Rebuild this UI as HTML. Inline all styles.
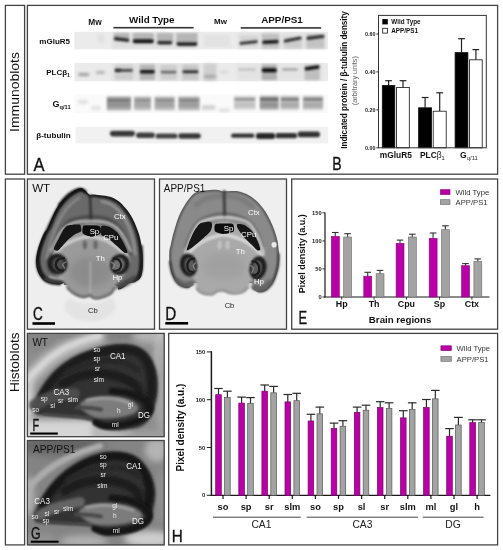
<!DOCTYPE html>
<html><head><meta charset="utf-8"><title>Figure</title>
<style>
html,body{margin:0;padding:0;background:#fff;}
body{width:503px;height:550px;overflow:hidden;}
svg{display:block;font-family:"Liberation Sans",sans-serif;}
.b{font-weight:bold;}
.fr{fill:none;stroke:#444;stroke-width:1.3;}
.L{stroke:#111;stroke-width:0.35;}
</style></head><body>
<svg width="503" height="550" viewBox="0 0 503 550">
<defs>
<filter id="bl1" filterUnits="userSpaceOnUse" x="0" y="0" width="503" height="550"><feGaussianBlur stdDeviation="0.9"/></filter>
<filter id="bl2" filterUnits="userSpaceOnUse" x="0" y="0" width="503" height="550"><feGaussianBlur stdDeviation="1.8"/></filter>
<filter id="bl3" filterUnits="userSpaceOnUse" x="0" y="0" width="503" height="550"><feGaussianBlur stdDeviation="3"/></filter>
<filter id="bl5" filterUnits="userSpaceOnUse" x="0" y="0" width="503" height="550"><feGaussianBlur stdDeviation="5"/></filter>
<filter id="bl12" filterUnits="userSpaceOnUse" x="0" y="0" width="503" height="550"><feGaussianBlur stdDeviation="1.25"/></filter>
<filter id="bl05" filterUnits="userSpaceOnUse" x="0" y="0" width="503" height="550"><feGaussianBlur stdDeviation="0.5"/></filter>
<clipPath id="cC"><rect x="27.4" y="179" width="127.1" height="150.2"/></clipPath>
<clipPath id="cD"><rect x="159.5" y="179" width="127" height="150.2"/></clipPath>
<clipPath id="cF"><rect x="27.4" y="333.4" width="136.8" height="103.3"/></clipPath>
<clipPath id="cG"><rect x="27.4" y="440.5" width="136.8" height="104.8"/></clipPath>
</defs>
<rect width="503" height="550" fill="#fff"/>

<g class="fr">
<rect x="5.4" y="5.4" width="19.2" height="168.8"/>
<rect x="27.4" y="5.4" width="470.2" height="168.8"/>
<rect x="5.4" y="179" width="19.2" height="365.9"/>
</g>
<text transform="translate(19.1,132) rotate(-90)" font-size="13.5" textLength="80" lengthAdjust="spacingAndGlyphs" fill="#111">Immunoblots</text>
<text transform="translate(19.1,392) rotate(-90)" font-size="13.5" textLength="59.5" lengthAdjust="spacingAndGlyphs" fill="#111">Histoblots</text>
<g id="panelA">
<rect x="74.4" y="31.8" width="253.6" height="17.6" fill="#ebebeb"/>
<rect x="74.4" y="63" width="253.6" height="18.2" fill="#ebebeb"/>
<rect x="74.4" y="94.5" width="253.6" height="18.5" fill="#fafafa"/>
<rect x="75.6" y="126.7" width="252.6" height="16.7" fill="#f1f1f1"/>
<text class="b" x="95" y="25.2" font-size="8.3" text-anchor="middle" fill="#111">Mw</text>
<text class="b" x="151.8" y="23" font-size="9.8" text-anchor="middle" fill="#111">Wild Type</text>
<text class="b" x="220.5" y="24.4" font-size="8" text-anchor="middle" fill="#111">Mw</text>
<text class="b" x="282" y="22.6" font-size="9.9" text-anchor="middle" fill="#111">APP/PS1</text>
<rect x="113.4" y="26.9" width="80.2" height="1.6" fill="#333"/>
<rect x="240.7" y="27.1" width="80.5" height="1.6" fill="#333"/>
<text class="b" x="70" y="43.8" font-size="8" text-anchor="end" fill="#111">mGluR5</text>
<text class="b" x="70" y="74.7" font-size="8" text-anchor="end" fill="#111">PLCβ<tspan font-size="5.2" dy="1.8">1</tspan></text>
<text class="b" x="70.6" y="106.7" font-size="9" text-anchor="end" fill="#111">G<tspan font-size="5.7" dy="2.2">q/11</tspan></text>
<text class="b" x="70.8" y="138" font-size="8.1" text-anchor="end" fill="#111">β-tubulin</text>
<rect x="112" y="33" width="86" height="15.5" fill="#d4d4d4" opacity="0.55" filter="url(#bl2)"/>
<rect x="238" y="33" width="87" height="15.5" fill="#d8d8d8" opacity="0.5" filter="url(#bl2)"/>
<rect x="114" y="33" width="15" height="7.0" fill="#8e8e8e" opacity="0.5" filter="url(#bl12)"/>
<rect x="133" y="33" width="20.5" height="8.5" fill="#8e8e8e" opacity="0.5" filter="url(#bl12)"/>
<rect x="157" y="33" width="16" height="10.0" fill="#8e8e8e" opacity="0.5" filter="url(#bl12)"/>
<rect x="176.5" y="33" width="20.900000000000006" height="11.0" fill="#8e8e8e" opacity="0.5" filter="url(#bl12)"/>
<path d="M115.7,37.0 L127.6,38.4 Q129.4,38.4 129.4,40.2 Q129.4,42.0 127.6,42.0 L115.7,40.6 Q113.9,40.6 113.9,38.8 Q113.9,37.0 115.7,37.0Z" fill="#262626" opacity="0.95" filter="url(#bl12)"/>
<path d="M134.8,39.3 L151.7,39.3 Q153.7,39.3 153.7,41.3 Q153.7,43.3 151.7,43.3 L134.8,43.3 Q132.8,43.3 132.8,41.3 Q132.8,39.3 134.8,39.3Z" fill="#161616" opacity="1" filter="url(#bl12)"/>
<path d="M159.0,41.1 L170.5,41.1 Q172.2,41.1 172.2,42.8 Q172.2,44.5 170.5,44.5 L159.0,44.5 Q157.3,44.5 157.3,42.8 Q157.3,41.1 159.0,41.1Z" fill="#262626" opacity="0.95" filter="url(#bl12)"/>
<path d="M178.3,42.3 L195.6,42.3 Q197.4,42.3 197.4,44.1 Q197.4,45.9 195.6,45.9 L178.3,45.9 Q176.5,45.9 176.5,44.1 Q176.5,42.3 178.3,42.3Z" fill="#1e1e1e" opacity="0.95" filter="url(#bl12)"/>
<rect x="98" y="34" width="6" height="9" fill="#ccc" opacity="0.35" filter="url(#bl2)"/>
<rect x="204" y="35" width="26" height="12" fill="#ddd" opacity="0.6" filter="url(#bl2)"/>
<rect x="240" y="36" width="17.5" height="11" fill="#9a9a9a" opacity="0.18" filter="url(#bl12)"/>
<rect x="262" y="33.5" width="17" height="15.0" fill="#9a9a9a" opacity="0.45" filter="url(#bl12)"/>
<rect x="284" y="37" width="17.5" height="11.5" fill="#9a9a9a" opacity="0.3" filter="url(#bl12)"/>
<rect x="306.5" y="34" width="18.0" height="14.5" fill="#9a9a9a" opacity="0.42" filter="url(#bl12)"/>
<path d="M240.8,42.0 L256.4,40.2 Q257.8,40.2 257.8,41.6 Q257.8,43.0 256.4,43.0 L240.8,44.8 Q239.5,44.8 239.5,43.4 Q239.5,42.0 240.8,42.0Z" fill="#282828" opacity="0.95" filter="url(#bl1)"/>
<path d="M264.0,40.4 L276.9,39.8 Q278.7,39.8 278.7,41.6 Q278.7,43.4 276.9,43.4 L264.0,44.0 Q262.2,44.0 262.2,42.2 Q262.2,40.4 264.0,40.4Z" fill="#1c1c1c" opacity="1" filter="url(#bl12)"/>
<path d="M285.2,39.4 L300.1,36.5 Q301.6,36.5 301.6,38.0 Q301.6,39.5 300.1,39.5 L285.2,42.4 Q283.7,42.4 283.7,40.9 Q283.7,39.4 285.2,39.4Z" fill="#262626" opacity="0.95" filter="url(#bl1)"/>
<path d="M308.2,36.6 L322.7,34.7 Q324.4,34.7 324.4,36.4 Q324.4,38.1 322.7,38.1 L308.2,40.0 Q306.5,40.0 306.5,38.3 Q306.5,36.6 308.2,36.6Z" fill="#2a2a2a" opacity="0.95" filter="url(#bl12)"/>
<rect x="112" y="64" width="88" height="16.5" fill="#d6d6d6" opacity="0.5" filter="url(#bl2)"/>
<rect x="237" y="64" width="86" height="16.5" fill="#dadada" opacity="0.45" filter="url(#bl2)"/>
<path d="M79.5,73.0 L87.9,73.0 Q89.4,73.0 89.4,74.6 Q89.4,76.1 87.9,76.1 L79.5,76.1 Q78.0,76.1 78.0,74.6 Q78.0,73.0 79.5,73.0Z" fill="#8e8e8e" opacity="0.85" filter="url(#bl2)"/>
<path d="M97.3,70.9 L103.5,70.9 Q105.0,70.9 105.0,72.4 Q105.0,73.9 103.5,73.9 L97.3,73.9 Q95.8,73.9 95.8,72.4 Q95.8,70.9 97.3,70.9Z" fill="#a2a2a2" opacity="0.8" filter="url(#bl2)"/>
<rect x="115" y="64.5" width="18" height="15.5" fill="#9a9a9a" opacity="0.25" filter="url(#bl12)"/>
<rect x="139.8" y="64.5" width="15.0" height="15.5" fill="#9a9a9a" opacity="0.6" filter="url(#bl12)"/>
<rect x="160.6" y="64.5" width="15.900000000000006" height="15.5" fill="#9a9a9a" opacity="0.25" filter="url(#bl12)"/>
<rect x="182.5" y="64.5" width="15.900000000000006" height="15.5" fill="#9a9a9a" opacity="0.35" filter="url(#bl12)"/>
<rect x="261.8" y="64.5" width="15.0" height="15.5" fill="#9a9a9a" opacity="0.7" filter="url(#bl12)"/>
<rect x="304.6" y="64.5" width="15.0" height="15.5" fill="#9a9a9a" opacity="0.5" filter="url(#bl12)"/>
<path d="M116.3,69.0 L131.4,69.0 Q132.8,69.0 132.8,70.4 Q132.8,71.8 131.4,71.8 L116.3,71.8 Q114.9,71.8 114.9,70.4 Q114.9,69.0 116.3,69.0Z" fill="#3a3a3a" opacity="0.9" filter="url(#bl1)"/>
<path d="M116.4,68.8 L119.5,68.8 Q121.0,68.8 121.0,70.2 Q121.0,71.7 119.5,71.7 L116.4,71.7 Q114.9,71.7 114.9,70.2 Q114.9,68.8 116.4,68.8Z" fill="#2a2a2a" opacity="0.7" filter="url(#bl1)"/>
<path d="M141.6,70.0 L153.0,70.0 Q154.8,70.0 154.8,71.8 Q154.8,73.6 153.0,73.6 L141.6,73.6 Q139.8,73.6 139.8,71.8 Q139.8,70.0 141.6,70.0Z" fill="#141414" opacity="1" filter="url(#bl12)"/>
<path d="M161.9,70.8 L175.2,70.8 Q176.5,70.8 176.5,72.1 Q176.5,73.4 175.2,73.4 L161.9,73.4 Q160.6,73.4 160.6,72.1 Q160.6,70.8 161.9,70.8Z" fill="#5a5a5a" opacity="0.85" filter="url(#bl1)"/>
<path d="M183.9,70.2 L197.0,70.2 Q198.4,70.2 198.4,71.7 Q198.4,73.2 197.0,73.2 L183.9,73.2 Q182.5,73.2 182.5,71.7 Q182.5,70.2 183.9,70.2Z" fill="#2c2c2c" opacity="0.95" filter="url(#bl1)"/>
<rect x="203.5" y="63.5" width="13" height="17.5" fill="#bbb" opacity="0.6" filter="url(#bl2)"/>
<path d="M205.6,75.0 L214.4,75.0 Q216.0,75.0 216.0,76.6 Q216.0,78.1 214.4,78.1 L205.6,78.1 Q204.0,78.1 204.0,76.6 Q204.0,75.0 205.6,75.0Z" fill="#999" opacity="0.8" filter="url(#bl2)"/>
<path d="M221.2,70.8 L226.8,70.8 Q228.0,70.8 228.0,72.0 Q228.0,73.2 226.8,73.2 L221.2,73.2 Q220.0,73.2 220.0,72.0 Q220.0,70.8 221.2,70.8Z" fill="#ccc" opacity="0.8" filter="url(#bl2)"/>
<path d="M239.1,68.4 L254.7,68.4 Q255.8,68.4 255.8,69.5 Q255.8,70.6 254.7,70.6 L239.1,70.6 Q238.0,70.6 238.0,69.5 Q238.0,68.4 239.1,68.4Z" fill="#b4b4b4" opacity="0.8" filter="url(#bl1)"/>
<path d="M263.8,68.2 L274.8,68.2 Q276.8,68.2 276.8,70.2 Q276.8,72.2 274.8,72.2 L263.8,72.2 Q261.8,72.2 261.8,70.2 Q261.8,68.2 263.8,68.2Z" fill="#101010" opacity="1" filter="url(#bl12)"/>
<path d="M283.2,68.4 L296.5,68.4 Q297.6,68.4 297.6,69.5 Q297.6,70.6 296.5,70.6 L283.2,70.6 Q282.1,70.6 282.1,69.5 Q282.1,68.4 283.2,68.4Z" fill="#8e8e8e" opacity="0.85" filter="url(#bl1)"/>
<path d="M306.4,67.0 L317.8,65.2 Q319.6,65.2 319.6,67.0 Q319.6,68.8 317.8,68.8 L306.4,70.6 Q304.6,70.6 304.6,68.8 Q304.6,67.0 306.4,67.0Z" fill="#121212" opacity="1" filter="url(#bl12)"/>
<path d="M80.0,100.0 L86.0,100.0 Q88.0,100.0 88.0,102.0 Q88.0,104.0 86.0,104.0 L80.0,104.0 Q78.0,104.0 78.0,102.0 Q78.0,100.0 80.0,100.0Z" fill="#ddd" opacity="0.9" filter="url(#bl2)"/>
<path d="M93.0,106.0 L99.0,106.0 Q101.0,106.0 101.0,108.0 Q101.0,110.0 99.0,110.0 L93.0,110.0 Q91.0,110.0 91.0,108.0 Q91.0,106.0 93.0,106.0Z" fill="#ddd" opacity="0.9" filter="url(#bl2)"/>
<rect x="107" y="97" width="23.80000000000001" height="12.5" fill="#8c8c8c" opacity="0.85" filter="url(#bl12)"/>
<rect x="107" y="96" width="23.80000000000001" height="15" fill="#aaa" opacity="0.42" filter="url(#bl2)"/>
<path d="M109.0,98.9 L128.8,98.9 Q130.3,98.9 130.3,100.4 Q130.3,101.9 128.8,101.9 L109.0,101.9 Q107.5,101.9 107.5,100.4 Q107.5,98.9 109.0,98.9Z" fill="#555" opacity="0.51" filter="url(#bl12)"/>
<path d="M109.0,103.1 L128.8,103.1 Q130.3,103.1 130.3,104.6 Q130.3,106.1 128.8,106.1 L109.0,106.1 Q107.5,106.1 107.5,104.6 Q107.5,103.1 109.0,103.1Z" fill="#666" opacity="0.2975" filter="url(#bl12)"/>
<rect x="134.2" y="97" width="16.700000000000017" height="12.5" fill="#8c8c8c" opacity="0.60" filter="url(#bl12)"/>
<rect x="134.2" y="96" width="16.700000000000017" height="15" fill="#aaa" opacity="0.30" filter="url(#bl2)"/>
<path d="M136.2,98.9 L148.9,98.9 Q150.4,98.9 150.4,100.4 Q150.4,101.9 148.9,101.9 L136.2,101.9 Q134.7,101.9 134.7,100.4 Q134.7,98.9 136.2,98.9Z" fill="#555" opacity="0.36" filter="url(#bl12)"/>
<path d="M136.2,103.1 L148.9,103.1 Q150.4,103.1 150.4,104.6 Q150.4,106.1 148.9,106.1 L136.2,106.1 Q134.7,106.1 134.7,104.6 Q134.7,103.1 136.2,103.1Z" fill="#666" opacity="0.21" filter="url(#bl12)"/>
<rect x="154.7" y="97" width="19.900000000000006" height="12.5" fill="#8c8c8c" opacity="0.62" filter="url(#bl12)"/>
<rect x="154.7" y="96" width="19.900000000000006" height="15" fill="#aaa" opacity="0.31" filter="url(#bl2)"/>
<path d="M156.7,98.9 L172.6,98.9 Q174.1,98.9 174.1,100.4 Q174.1,101.9 172.6,101.9 L156.7,101.9 Q155.2,101.9 155.2,100.4 Q155.2,98.9 156.7,98.9Z" fill="#555" opacity="0.372" filter="url(#bl12)"/>
<path d="M156.7,103.1 L172.6,103.1 Q174.1,103.1 174.1,104.6 Q174.1,106.1 172.6,106.1 L156.7,106.1 Q155.2,106.1 155.2,104.6 Q155.2,103.1 156.7,103.1Z" fill="#666" opacity="0.217" filter="url(#bl12)"/>
<rect x="178.5" y="97" width="20.900000000000006" height="12.5" fill="#8c8c8c" opacity="0.70" filter="url(#bl12)"/>
<rect x="178.5" y="96" width="20.900000000000006" height="15" fill="#aaa" opacity="0.35" filter="url(#bl2)"/>
<path d="M180.5,98.9 L197.4,98.9 Q198.9,98.9 198.9,100.4 Q198.9,101.9 197.4,101.9 L180.5,101.9 Q179.0,101.9 179.0,100.4 Q179.0,98.9 180.5,98.9Z" fill="#555" opacity="0.42" filter="url(#bl12)"/>
<path d="M180.5,103.1 L197.4,103.1 Q198.9,103.1 198.9,104.6 Q198.9,106.1 197.4,106.1 L180.5,106.1 Q179.0,106.1 179.0,104.6 Q179.0,103.1 180.5,103.1Z" fill="#666" opacity="0.24499999999999997" filter="url(#bl12)"/>
<path d="M203.8,105.2 L213.2,105.2 Q215.5,105.2 215.5,107.4 Q215.5,109.7 213.2,109.7 L203.8,109.7 Q201.5,109.7 201.5,107.4 Q201.5,105.2 203.8,105.2Z" fill="#ccc" opacity="0.95" filter="url(#bl2)"/>
<path d="M220.2,108.5 L228.2,108.5 Q230.0,108.5 230.0,110.2 Q230.0,112.0 228.2,112.0 L220.2,112.0 Q218.5,112.0 218.5,110.2 Q218.5,108.5 220.2,108.5Z" fill="#ddd" opacity="0.95" filter="url(#bl2)"/>
<rect x="234" y="96.5" width="21.5" height="12.5" fill="#8c8c8c" opacity="0.35" filter="url(#bl12)"/>
<rect x="234" y="95.5" width="21.5" height="15" fill="#aaa" opacity="0.17" filter="url(#bl2)"/>
<path d="M235.7,98.2 L253.8,98.2 Q255.0,98.2 255.0,99.4 Q255.0,100.6 253.8,100.6 L235.7,100.6 Q234.5,100.6 234.5,99.4 Q234.5,98.2 235.7,98.2Z" fill="#505050" opacity="0.51" filter="url(#bl1)"/>
<path d="M236.0,103.3 L253.5,103.3 Q255.0,103.3 255.0,104.8 Q255.0,106.3 253.5,106.3 L236.0,106.3 Q234.5,106.3 234.5,104.8 Q234.5,103.3 236.0,103.3Z" fill="#6a6a6a" opacity="0.12249999999999998" filter="url(#bl12)"/>
<rect x="260" y="96.5" width="18.5" height="12.5" fill="#8c8c8c" opacity="0.85" filter="url(#bl12)"/>
<rect x="260" y="95.5" width="18.5" height="15" fill="#aaa" opacity="0.42" filter="url(#bl2)"/>
<path d="M261.7,98.2 L276.8,98.2 Q278.0,98.2 278.0,99.4 Q278.0,100.6 276.8,100.6 L261.7,100.6 Q260.5,100.6 260.5,99.4 Q260.5,98.2 261.7,98.2Z" fill="#505050" opacity="0.81" filter="url(#bl1)"/>
<path d="M262.0,103.3 L276.5,103.3 Q278.0,103.3 278.0,104.8 Q278.0,106.3 276.5,106.3 L262.0,106.3 Q260.5,106.3 260.5,104.8 Q260.5,103.3 262.0,103.3Z" fill="#6a6a6a" opacity="0.2975" filter="url(#bl12)"/>
<rect x="280.5" y="96.5" width="18.5" height="12.5" fill="#8c8c8c" opacity="0.55" filter="url(#bl12)"/>
<rect x="280.5" y="95.5" width="18.5" height="15" fill="#aaa" opacity="0.28" filter="url(#bl2)"/>
<path d="M282.2,98.2 L297.3,98.2 Q298.5,98.2 298.5,99.4 Q298.5,100.6 297.3,100.6 L282.2,100.6 Q281.0,100.6 281.0,99.4 Q281.0,98.2 282.2,98.2Z" fill="#505050" opacity="0.63" filter="url(#bl1)"/>
<path d="M282.5,103.3 L297.0,103.3 Q298.5,103.3 298.5,104.8 Q298.5,106.3 297.0,106.3 L282.5,106.3 Q281.0,106.3 281.0,104.8 Q281.0,103.3 282.5,103.3Z" fill="#6a6a6a" opacity="0.1925" filter="url(#bl12)"/>
<rect x="303" y="96.5" width="20" height="12.5" fill="#8c8c8c" opacity="0.55" filter="url(#bl12)"/>
<rect x="303" y="95.5" width="20" height="15" fill="#aaa" opacity="0.28" filter="url(#bl2)"/>
<path d="M304.7,98.2 L321.3,98.2 Q322.5,98.2 322.5,99.4 Q322.5,100.6 321.3,100.6 L304.7,100.6 Q303.5,100.6 303.5,99.4 Q303.5,98.2 304.7,98.2Z" fill="#505050" opacity="0.63" filter="url(#bl1)"/>
<path d="M305.0,103.3 L321.0,103.3 Q322.5,103.3 322.5,104.8 Q322.5,106.3 321.0,106.3 L305.0,106.3 Q303.5,106.3 303.5,104.8 Q303.5,103.3 305.0,103.3Z" fill="#6a6a6a" opacity="0.1925" filter="url(#bl12)"/>
<path d="M112.7,130.8 L132.2,130.8 Q135.0,130.8 135.0,133.6 Q135.0,136.4 132.2,136.4 L112.7,136.4 Q109.9,136.4 109.9,133.6 Q109.9,130.8 112.7,130.8Z" fill="#383838" opacity="1" filter="url(#bl12)"/>
<path d="M138.7,132.6 L152.2,132.6 Q154.9,132.6 154.9,135.3 Q154.9,138.0 152.2,138.0 L138.7,138.0 Q136.0,138.0 136.0,135.3 Q136.0,132.6 138.7,132.6Z" fill="#3c3c3c" opacity="1" filter="url(#bl12)"/>
<path d="M158.1,133.4 L175.0,133.4 Q177.6,133.4 177.6,136.0 Q177.6,138.6 175.0,138.6 L158.1,138.6 Q155.5,138.6 155.5,136.0 Q155.5,133.4 158.1,133.4Z" fill="#424242" opacity="1" filter="url(#bl12)"/>
<path d="M181.0,133.3 L198.1,133.3 Q200.8,133.3 200.8,136.0 Q200.8,138.7 198.1,138.7 L181.0,138.7 Q178.3,138.7 178.3,136.0 Q178.3,133.3 181.0,133.3Z" fill="#383838" opacity="1" filter="url(#bl12)"/>
<path d="M233.1,133.6 L252.4,133.6 Q254.5,133.6 254.5,135.7 Q254.5,137.8 252.4,137.8 L233.1,137.8 Q231.0,137.8 231.0,135.7 Q231.0,133.6 233.1,133.6Z" fill="#303030" opacity="1" filter="url(#bl12)"/>
<path d="M258.8,133.1 L272.4,133.1 Q275.4,133.1 275.4,136.1 Q275.4,139.1 272.4,139.1 L258.8,139.1 Q255.8,139.1 255.8,136.1 Q255.8,133.1 258.8,133.1Z" fill="#282828" opacity="1" filter="url(#bl12)"/>
<path d="M278.0,133.1 L294.6,133.1 Q297.2,133.1 297.2,135.7 Q297.2,138.3 294.6,138.3 L278.0,138.3 Q275.4,138.3 275.4,135.7 Q275.4,133.1 278.0,133.1Z" fill="#303030" opacity="1" filter="url(#bl12)"/>
<path d="M300.4,131.6 L317.2,131.6 Q320.0,131.6 320.0,134.4 Q320.0,137.2 317.2,137.2 L300.4,137.2 Q297.6,137.2 297.6,134.4 Q297.6,131.6 300.4,131.6Z" fill="#303030" opacity="1" filter="url(#bl12)"/>
<text class="L" x="33.6" y="171" font-size="18.6" fill="#111" textLength="11" lengthAdjust="spacingAndGlyphs">A</text>
</g>
<g id="panelB">
<text class="L" x="332.2" y="170.2" font-size="18.4" fill="#111" textLength="9.4" lengthAdjust="spacingAndGlyphs">B</text>
<line x1="388.6" y1="85.4" x2="388.6" y2="80.7" stroke="#222" stroke-width="1.2"/>
<line x1="385.2" y1="80.7" x2="391.9" y2="80.7" stroke="#222" stroke-width="1.2"/>
<rect x="382.3" y="85.4" width="12.5" height="62.4" fill="#000" stroke="#111" stroke-width="0.8"/>
<line x1="403.0" y1="87.5" x2="403.0" y2="80.7" stroke="#222" stroke-width="1.2"/>
<line x1="399.6" y1="80.7" x2="406.4" y2="80.7" stroke="#222" stroke-width="1.2"/>
<rect x="396.6" y="87.5" width="12.7" height="60.3" fill="#fff" stroke="#111" stroke-width="0.8"/>
<line x1="425.1" y1="107.8" x2="425.1" y2="97.5" stroke="#222" stroke-width="1.2"/>
<line x1="421.7" y1="97.5" x2="428.5" y2="97.5" stroke="#222" stroke-width="1.2"/>
<rect x="418.6" y="107.8" width="13.0" height="40.0" fill="#000" stroke="#111" stroke-width="0.8"/>
<line x1="439.7" y1="111.2" x2="439.7" y2="92.8" stroke="#222" stroke-width="1.2"/>
<line x1="436.3" y1="92.8" x2="443.1" y2="92.8" stroke="#222" stroke-width="1.2"/>
<rect x="433.2" y="111.2" width="13.0" height="36.6" fill="#fff" stroke="#111" stroke-width="0.8"/>
<line x1="461.5" y1="52.6" x2="461.5" y2="38.7" stroke="#222" stroke-width="1.2"/>
<line x1="458.1" y1="38.7" x2="464.9" y2="38.7" stroke="#222" stroke-width="1.2"/>
<rect x="455.1" y="52.6" width="12.8" height="95.2" fill="#000" stroke="#111" stroke-width="0.8"/>
<line x1="475.9" y1="59.8" x2="475.9" y2="49.6" stroke="#222" stroke-width="1.2"/>
<line x1="472.5" y1="49.6" x2="479.2" y2="49.6" stroke="#222" stroke-width="1.2"/>
<rect x="469.5" y="59.8" width="12.7" height="88.0" fill="#fff" stroke="#111" stroke-width="0.8"/>
<rect x="378.5" y="15.4" width="107.8" height="132.4" fill="none" stroke="#333" stroke-width="1"/>
<line x1="376.3" y1="147.8" x2="378.5" y2="147.8" stroke="#222" stroke-width="0.9"/>
<text class="b" x="375.5" y="149.7" font-size="5.4" text-anchor="end" fill="#222">0.00</text>
<line x1="376.3" y1="109.9" x2="378.5" y2="109.9" stroke="#222" stroke-width="0.9"/>
<text class="b" x="375.5" y="111.8" font-size="5.4" text-anchor="end" fill="#222">0.20</text>
<line x1="376.3" y1="71.9" x2="378.5" y2="71.9" stroke="#222" stroke-width="0.9"/>
<text class="b" x="375.5" y="73.8" font-size="5.4" text-anchor="end" fill="#222">0.40</text>
<line x1="376.3" y1="34.0" x2="378.5" y2="34.0" stroke="#222" stroke-width="0.9"/>
<text class="b" x="375.5" y="35.9" font-size="5.4" text-anchor="end" fill="#222">0.60</text>
<text class="b" x="395.9" y="158" font-size="8.4" text-anchor="middle" fill="#111">mGluR5</text>
<text class="b" x="432.3" y="158" font-size="8.4" text-anchor="middle" fill="#111">PLC<tspan font-weight="normal">β</tspan><tspan font-size="5.6" dy="1.8" font-weight="normal">1</tspan></text>
<text class="b" x="469" y="158" font-size="8.6" text-anchor="middle" fill="#111">G<tspan font-size="6" dy="2" font-weight="normal" fill="#333">q/11</tspan></text>
<rect x="382.3" y="19.1" width="5.5" height="5.3" fill="#000"/>
<rect x="382.7" y="28.3" width="4.8" height="4.8" fill="#fff" stroke="#111" stroke-width="0.8"/>
<text class="b" x="391.3" y="24.4" font-size="6.3" fill="#111">Wild Type</text>
<text class="b" x="391.3" y="33.3" font-size="6.3" fill="#111">APP/PS1</text>
<text class="b" transform="translate(346.5,80) rotate(-90)" font-size="8.15" text-anchor="middle" fill="#111">Indicated protein / β-tubulin density</text>
<text transform="translate(357,80.6) rotate(-90)" font-size="7.3" text-anchor="middle" fill="#666">(arbitrary units)</text>
</g><g id="panelC"><g clip-path="url(#cC)">
<rect x="27" y="179" width="128" height="151" fill="#eeeeee"/>
<path d="M81.1,188.0C83.1,187.9 83.6,189.5 85.1,190.6C86.5,191.7 88.5,194.2 89.8,194.8C91.1,195.4 91.2,194.3 93.0,194.4C94.8,194.5 97.5,194.8 100.3,195.2C103.1,195.6 107.0,195.8 110.0,196.8C113.0,197.8 115.8,199.1 118.4,201.0C121.0,202.9 123.3,205.6 125.4,208.0C127.5,210.4 129.2,212.7 130.9,215.6C132.6,218.5 134.4,222.2 135.8,225.4C137.2,228.7 138.4,231.9 139.3,235.1C140.2,238.3 140.8,241.6 141.4,244.8C142.0,248.1 142.6,250.8 142.8,254.6C143.0,258.4 143.2,264.0 142.8,267.8C142.5,271.6 142.0,275.2 140.7,277.6C139.4,280.0 137.0,280.9 135.1,281.9C133.2,282.8 131.3,282.4 129.5,283.3C127.7,284.2 125.8,286.3 124.0,287.3C122.2,288.3 120.2,289.8 118.4,289.4C116.6,289.0 121.4,285.7 113.0,285.0C104.6,284.3 76.1,285.3 68.0,285.0C59.9,284.7 66.1,283.1 64.6,283.0C63.1,282.9 61.5,284.5 59.0,284.5C56.5,284.5 52.1,284.0 49.3,283.1C46.5,282.2 44.3,281.1 42.3,279.0C40.3,276.9 38.4,273.6 37.4,270.6C36.4,267.6 36.0,264.1 36.0,260.9C36.0,257.6 36.6,254.6 37.4,251.1C38.2,247.6 39.8,243.0 40.9,240.0C42.0,237.0 42.9,235.0 44.0,233.0C45.1,231.0 46.3,230.6 47.7,227.9C49.1,225.2 50.8,220.2 52.4,216.8C54.0,213.4 55.3,210.2 57.2,207.3C59.1,204.4 61.0,202.0 63.6,199.3C66.2,196.7 70.2,193.3 73.1,191.4C76.0,189.5 79.1,188.1 81.1,188.0Z" fill="#1c1c1c" filter="url(#bl05)"/>
<path d="M81.8,191.1C83.6,191.0 84.1,192.5 85.5,193.6C86.8,194.6 88.6,196.9 89.8,197.5C91.1,198.1 91.2,197.1 92.8,197.1C94.5,197.2 97.0,197.5 99.6,197.9C102.2,198.3 105.8,198.5 108.6,199.4C111.4,200.3 114.1,201.6 116.4,203.3C118.8,205.1 121.0,207.6 123.0,209.9C124.9,212.2 126.5,214.3 128.1,217.1C129.7,219.8 131.3,223.2 132.6,226.3C133.9,229.3 135.0,232.4 135.9,235.4C136.8,238.4 137.3,241.5 137.8,244.5C138.4,247.6 138.9,250.1 139.1,253.7C139.4,257.3 139.5,262.5 139.1,266.1C138.8,269.7 138.4,273.1 137.2,275.3C136.0,277.6 133.7,278.5 132.0,279.4C130.2,280.3 128.5,279.9 126.8,280.7C125.0,281.5 123.4,283.5 121.7,284.5C119.9,285.4 118.2,286.8 116.4,286.4C114.7,286.1 119.2,283.0 111.4,282.3C103.6,281.6 77.1,282.6 69.6,282.3C62.1,282.0 67.8,280.5 66.4,280.4C65.0,280.3 63.6,281.8 61.2,281.8C58.8,281.8 54.8,281.4 52.2,280.5C49.6,279.7 47.5,278.6 45.7,276.7C43.8,274.7 42.1,271.6 41.1,268.8C40.1,265.9 39.8,262.7 39.8,259.6C39.8,256.6 40.4,253.7 41.1,250.4C41.9,247.2 43.3,242.8 44.4,240.0C45.4,237.2 46.2,235.3 47.3,233.4C48.3,231.5 49.4,231.2 50.7,228.6C52.0,226.1 53.6,221.4 55.1,218.2C56.5,215.0 57.8,212.0 59.5,209.3C61.3,206.5 63.0,204.2 65.5,201.7C67.9,199.3 71.6,196.1 74.3,194.3C77.0,192.5 79.9,191.2 81.8,191.1Z" fill="#6a6a6a" filter="url(#bl1)"/>
<path d="M102.0,201.5C103.7,202.1 108.8,202.9 112.0,205.0C115.2,207.1 118.8,210.5 121.5,214.0C124.2,217.5 126.6,221.7 128.5,226.0C130.4,230.3 131.9,235.3 133.0,240.0C134.1,244.7 134.7,251.7 135.0,254.0" fill="none" stroke="#959595" stroke-width="3.0" stroke-linecap="round" stroke-linejoin="round" opacity="0.9" filter="url(#bl12)"/>
<path d="M79.0,198.0C77.3,199.3 72.0,202.8 69.0,206.0C66.0,209.2 63.4,212.8 61.0,217.0C58.6,221.2 56.4,226.2 54.5,231.0C52.6,235.8 50.8,241.5 49.5,246.0C48.2,250.5 47.4,256.0 47.0,258.0" fill="none" stroke="#8c8c8c" stroke-width="3.0" stroke-linecap="round" stroke-linejoin="round" opacity="0.85" filter="url(#bl12)"/>
<path d="M53.0,247.0C54.2,244.5 57.2,236.3 60.0,232.0C62.8,227.7 65.0,223.5 70.0,221.0C75.0,218.5 83.7,217.1 90.0,216.8C96.3,216.6 103.1,217.6 108.0,219.5C112.9,221.4 116.3,224.2 119.5,228.0C122.7,231.8 125.2,237.7 127.0,242.0C128.8,246.3 129.5,252.0 130.0,254.0" fill="none" stroke="#4a4a4a" stroke-width="3.6" stroke-linecap="round" stroke-linejoin="round" opacity="0.9" filter="url(#bl12)"/>
<path d="M60.0,204.5C61.1,203.2 64.2,199.2 66.5,197.0C68.8,194.8 71.7,192.9 74.0,191.6C76.3,190.3 78.8,189.4 80.6,189.4C82.4,189.4 84.3,191.2 85.0,191.6" fill="none" stroke="#111" stroke-width="3.4" stroke-linecap="round" stroke-linejoin="round" filter="url(#bl1)"/>
<path d="M37.4,260.0C37.7,258.3 38.3,253.8 39.4,250.0C40.5,246.2 42.4,241.3 44.2,237.0C46.0,232.7 48.1,228.1 50.0,224.0C51.9,219.9 53.9,215.7 55.6,212.5C57.3,209.3 59.3,206.2 60.0,205.0" fill="none" stroke="#181818" stroke-width="2.6" stroke-linecap="round" stroke-linejoin="round" filter="url(#bl1)"/>
<path d="M37.6,262.0C37.9,263.5 38.3,268.2 39.4,271.0C40.5,273.8 42.2,276.7 44.0,278.5C45.8,280.3 47.5,281.2 50.0,282.0C52.5,282.8 57.5,283.2 59.0,283.4" fill="none" stroke="#1c1c1c" stroke-width="3.6" stroke-linecap="round" stroke-linejoin="round" filter="url(#bl1)"/>
<path d="M141.6,246.0C141.7,248.0 142.0,254.3 142.0,258.0C142.0,261.7 142.0,264.9 141.6,268.0C141.2,271.1 140.8,274.3 139.5,276.5C138.2,278.7 134.9,280.2 134.0,281.0" fill="none" stroke="#1c1c1c" stroke-width="2.2" stroke-linecap="round" stroke-linejoin="round" filter="url(#bl1)"/>
<path d="M118.0,286.4C119.3,285.9 123.3,284.9 126.0,283.5C128.7,282.1 132.7,278.9 134.0,278.0" fill="none" stroke="#4a4a4a" stroke-width="5" stroke-linecap="round" stroke-linejoin="round" filter="url(#bl2)"/>
<path d="M46.0,279.0C47.3,279.4 51.3,281.2 54.0,281.5C56.7,281.8 60.7,281.1 62.0,281.0" fill="none" stroke="#3c3c3c" stroke-width="4" stroke-linecap="round" stroke-linejoin="round" filter="url(#bl12)"/>
<path d="M90.2,195.0C90.2,197.2 90.4,203.7 90.5,208.0C90.6,212.3 90.8,218.8 90.8,221.0" fill="none" stroke="#262626" stroke-width="2.0" stroke-linecap="round" stroke-linejoin="round" filter="url(#bl1)"/>
<path d="M50.5,262.0C50.5,258.2 52.8,254.0 55.0,250.0C57.2,246.0 60.5,241.7 64.0,238.0C67.5,234.3 71.6,230.3 76.0,228.0C80.4,225.7 85.7,224.0 90.5,224.0C95.3,224.0 100.6,225.7 105.0,228.0C109.4,230.3 113.5,234.3 117.0,238.0C120.5,241.7 123.8,246.0 126.0,250.0C128.2,254.0 130.7,258.0 130.5,262.0C130.3,266.0 127.2,270.5 125.0,274.0C122.8,277.5 118.7,280.8 117.0,283.0C115.3,285.2 116.1,285.4 114.9,287.3C113.7,289.2 112.7,292.5 110.0,294.3C107.3,296.1 101.6,297.8 98.9,298.4C96.2,299.0 95.3,298.6 93.8,298.2C92.3,297.8 91.6,295.9 89.8,295.8C88.0,295.7 85.5,297.8 82.7,297.3C79.9,296.8 75.5,294.6 72.9,292.9C70.4,291.2 69.1,289.3 67.4,287.3C65.8,285.3 65.1,283.4 63.0,281.0C60.9,278.6 57.1,276.2 55.0,273.0C52.9,269.8 50.5,265.8 50.5,262.0Z" fill="#9a9a9a" filter="url(#bl1)"/>
<path d="M50.9,250.5C51.8,248.6 54.4,242.7 56.5,239.0C58.6,235.3 60.6,231.3 63.6,228.5C66.6,225.7 70.2,223.6 74.7,222.4C79.2,221.2 85.2,221.2 90.6,221.2C96.0,221.2 102.5,221.4 107.0,222.6C111.5,223.8 114.5,225.8 117.5,228.5C120.5,231.2 122.8,235.2 125.0,239.0C127.2,242.8 129.6,249.0 130.5,251.0" fill="none" stroke="#b6b6b6" stroke-width="2.5" stroke-linecap="round" stroke-linejoin="round" filter="url(#bl1)"/>
<path d="M55.0,254.0C56.5,252.6 60.5,247.9 64.0,245.5C67.5,243.1 71.5,241.0 76.0,239.5C80.5,238.0 85.9,236.5 90.7,236.6C95.5,236.7 100.6,238.2 105.0,240.0C109.4,241.8 113.4,244.8 117.0,247.5C120.6,250.2 124.9,254.6 126.5,256.0" fill="none" stroke="#cecece" stroke-width="3.2" stroke-linecap="round" stroke-linejoin="round" filter="url(#bl1)"/>
<ellipse cx="90.5" cy="272.0" rx="21" ry="15" fill="#8a8a8a" opacity="0.9" filter="url(#bl3)"/>
<path d="M67.4,287.3C68.3,288.2 70.4,291.1 72.9,292.7C75.5,294.3 79.9,296.4 82.7,296.8C85.5,297.2 88.0,295.2 89.8,295.4C91.6,295.6 92.3,297.4 93.8,297.8C95.3,298.2 96.2,298.6 98.9,297.9C101.6,297.2 107.3,295.6 110.0,293.8C112.7,292.0 114.1,288.4 114.9,287.3" fill="none" stroke="#686868" stroke-width="2.6" stroke-linecap="round" stroke-linejoin="round" filter="url(#bl1)"/>
<path d="M90.4,262.0C90.4,264.7 90.4,273.0 90.4,278.0C90.4,283.0 90.2,289.7 90.2,292.0" fill="none" stroke="#b4b4b4" stroke-width="1.8" stroke-linecap="round" stroke-linejoin="round" opacity="0.8" filter="url(#bl1)"/>
<path d="M67.6,225.6C69.6,224.8 77.9,224.0 79.5,224.6C81.1,225.2 81.9,229.9 81.3,231.1C80.7,232.3 76.4,233.4 74.7,234.5C73.0,235.6 68.7,239.0 66.8,240.9C64.9,242.8 59.5,249.5 58.0,250.4C56.5,251.3 53.9,249.9 54.0,248.6C54.1,247.3 57.6,241.1 58.6,239.1C59.6,237.1 61.6,232.7 62.6,231.1C63.6,229.5 65.6,226.4 67.6,225.6Z" fill="#121212" filter="url(#bl05)"/>
<path d="M83.2,225.9C84.0,224.9 88.1,225.3 90.0,225.3C91.9,225.3 98.6,225.3 99.8,226.3C101.0,227.3 101.2,232.6 100.2,233.8C99.2,235.0 93.0,236.8 91.0,236.8C89.0,236.8 83.9,234.9 83.0,233.6C82.1,232.3 82.4,226.9 83.2,225.9Z" fill="#0a0a0a" filter="url(#bl05)"/>
<path d="M101.6,226.1C102.6,225.2 107.7,226.1 109.6,226.9C111.5,227.7 115.9,230.9 117.5,232.8C119.1,234.7 122.3,240.6 123.5,242.8C124.7,245.0 127.4,250.7 127.5,251.9C127.6,253.1 125.9,253.5 124.5,252.7C123.1,251.9 117.5,246.5 115.5,244.8C113.5,243.1 109.3,239.0 107.6,237.8C105.9,236.6 101.9,236.2 101.2,234.8C100.5,233.4 100.6,227.0 101.6,226.1Z" fill="#121212" filter="url(#bl05)"/>
<ellipse cx="84.9" cy="244.8" rx="2.2" ry="4.6" fill="#686868" filter="url(#bl1)"/>
<ellipse cx="95.5" cy="244.8" rx="2.2" ry="4.6" fill="#686868" filter="url(#bl1)"/>
<path d="M66.4,259.8C67.0,261.2 67.4,262.8 67.4,264.4C67.4,265.9 67.1,267.5 66.5,268.9C65.8,270.2 64.8,271.5 63.7,272.4C62.6,273.3 61.1,274.0 59.7,274.3C58.2,274.6 56.6,274.5 55.2,274.1C53.7,273.8 52.2,273.0 51.1,272.0C49.9,271.0 48.9,269.6 48.2,268.2C47.6,266.8 47.2,265.2 47.2,263.6C47.2,262.1 47.5,260.5 48.1,259.1C48.8,257.8 49.8,256.5 50.9,255.6C52.0,254.7 53.5,254.0 54.9,253.7C56.4,253.4 58.0,253.5 59.4,253.9C60.9,254.2 62.4,255.0 63.5,256.0C64.7,257.0 65.7,258.4 66.4,259.8Z" fill="#1a1a1a" filter="url(#bl1)"/>
<path d="M64.1,261.8C64.5,262.7 64.8,263.8 64.8,264.8C64.9,265.8 64.7,266.9 64.3,267.7C63.9,268.6 63.3,269.4 62.6,270.0C61.9,270.6 61.0,271.0 60.1,271.2C59.2,271.3 58.2,271.3 57.3,271.0C56.4,270.7 55.5,270.2 54.7,269.5C54.0,268.9 53.3,267.9 52.9,267.0C52.5,266.1 52.2,265.0 52.2,264.0C52.1,263.0 52.3,261.9 52.7,261.1C53.1,260.2 53.7,259.4 54.4,258.8C55.1,258.2 56.0,257.8 56.9,257.6C57.8,257.5 58.8,257.5 59.7,257.8C60.6,258.1 61.5,258.6 62.3,259.3C63.0,259.9 63.7,260.9 64.1,261.8Z" fill="#4e4e4e" filter="url(#bl1)"/>
<path d="M63.8,258.2C63.0,258.3 60.1,258.3 58.8,259.2C57.5,260.2 56.0,262.4 55.8,264.0C55.6,265.6 56.6,268.0 57.8,269.1C59.0,270.2 62.0,270.3 62.8,270.6" fill="none" stroke="#1a1a1a" stroke-width="2.2" stroke-linecap="round" stroke-linejoin="round" filter="url(#bl05)"/>
<path d="M65.8,261.9C65.3,262.3 63.0,263.5 62.8,264.5C62.6,265.6 64.5,267.6 64.8,268.2" fill="none" stroke="#9a9a9a" stroke-width="1.2" stroke-linecap="round" stroke-linejoin="round" opacity="0.7" filter="url(#bl05)"/>
<path d="M128.5,268.5C127.9,269.8 126.8,271.2 125.7,272.2C124.6,273.2 123.1,274.0 121.7,274.4C120.3,274.8 118.7,274.9 117.4,274.7C116.0,274.4 114.6,273.7 113.5,272.9C112.4,272.0 111.5,270.7 110.9,269.4C110.3,268.1 110.0,266.4 110.0,264.9C110.1,263.4 110.5,261.7 111.1,260.3C111.7,259.0 112.8,257.6 113.9,256.6C115.0,255.6 116.5,254.8 117.9,254.4C119.3,254.0 120.9,253.9 122.2,254.1C123.6,254.4 125.0,255.1 126.1,255.9C127.2,256.8 128.1,258.1 128.7,259.4C129.3,260.7 129.6,262.4 129.6,263.9C129.5,265.4 129.1,267.1 128.5,268.5Z" fill="#1a1a1a" filter="url(#bl1)"/>
<path d="M124.0,267.3C123.6,268.2 122.9,269.1 122.2,269.8C121.5,270.5 120.5,271.0 119.7,271.3C118.8,271.6 117.8,271.7 116.9,271.5C116.1,271.4 115.2,271.0 114.5,270.4C113.9,269.9 113.3,269.0 112.9,268.2C112.6,267.3 112.4,266.3 112.5,265.3C112.5,264.3 112.8,263.2 113.2,262.3C113.6,261.4 114.3,260.5 115.0,259.8C115.7,259.1 116.7,258.6 117.5,258.3C118.4,258.0 119.4,257.9 120.3,258.1C121.1,258.2 122.0,258.6 122.7,259.2C123.3,259.7 123.9,260.6 124.3,261.4C124.6,262.3 124.8,263.3 124.7,264.3C124.7,265.3 124.4,266.4 124.0,267.3Z" fill="#727272" filter="url(#bl1)"/>
<path d="M113.6,258.6C114.4,258.7 117.1,258.7 118.4,259.6C119.6,260.6 121.1,262.8 121.2,264.4C121.4,266.0 120.4,268.4 119.3,269.5C118.2,270.6 115.3,270.7 114.5,271.0" fill="none" stroke="#1a1a1a" stroke-width="2.2" stroke-linecap="round" stroke-linejoin="round" filter="url(#bl05)"/>
<path d="M111.6,262.3C112.1,262.7 114.4,263.9 114.5,264.9C114.7,266.0 112.9,268.0 112.6,268.6" fill="none" stroke="#9a9a9a" stroke-width="1.2" stroke-linecap="round" stroke-linejoin="round" opacity="0.7" filter="url(#bl05)"/>
<path d="M49.5,276.6C50.5,276.9 53.4,277.8 55.5,278.2C57.6,278.6 60.9,278.7 62.0,278.8" fill="none" stroke="#c4c4c4" stroke-width="1.6" stroke-linecap="round" stroke-linejoin="round" filter="url(#bl1)"/>
<path d="M68.0,299.0C70.2,297.7 74.3,301.3 78.0,302.0C81.7,302.7 86.0,303.0 90.0,303.0C94.0,303.0 98.3,302.8 102.0,302.0C105.7,301.2 109.8,296.8 112.0,298.0C114.2,299.2 116.3,305.5 115.0,309.0C113.7,312.5 108.2,317.0 104.0,319.0C99.8,321.0 94.7,321.0 90.0,321.0C85.3,321.0 80.2,320.8 76.0,319.0C71.8,317.2 66.3,313.3 65.0,310.0C63.7,306.7 65.8,300.3 68.0,299.0Z" fill="#e2e2e2" opacity="0.9" filter="url(#bl2)"/>
</g>
<text x="32.2" y="191.9" font-size="11.3" fill="#111" textLength="18" lengthAdjust="spacingAndGlyphs">WT</text>
<g font-size="7.8" fill="#fff" text-anchor="middle">
<text x="119.8" y="219.2">Ctx</text><text x="94.4" y="234.2">Sp</text><text x="110.8" y="239.6">CPu</text><text x="100.2" y="261">Th</text><text x="117.4" y="280.2">Hp</text>
</g>
<text x="92.8" y="312.6" font-size="7.6" fill="#222" text-anchor="middle">Cb</text>
<text class="L" x="33" y="320.0" font-size="18.6" fill="#111" textLength="9.8" lengthAdjust="spacingAndGlyphs">C</text>
<rect x="32.5" y="322.2" width="22.5" height="2.6" fill="#000"/>
<rect class="fr" x="27.4" y="179" width="127.1" height="150.2"/>
</g>
<g id="panelD"><g clip-path="url(#cD)">
<rect x="159" y="179" width="128" height="151" fill="#efefef"/>
<path d="M195.2,192.7C197.9,191.3 201.2,191.1 204.9,190.6C208.6,190.1 214.4,189.7 217.4,189.9C220.4,190.1 221.8,191.3 223.0,191.6C224.2,191.8 222.0,191.4 224.5,191.4C227.0,191.4 233.8,190.6 237.9,191.3C242.0,192.0 245.8,193.7 249.0,195.4C252.2,197.1 254.8,199.3 257.4,201.7C259.9,204.1 262.2,207.0 264.3,210.0C266.4,213.0 268.3,216.6 269.9,219.8C271.5,223.1 272.8,226.0 274.1,229.5C275.4,233.0 276.7,237.0 277.5,240.7C278.3,244.4 278.6,249.2 278.9,251.8C279.2,254.4 279.4,253.8 279.4,256.0C279.4,258.2 279.4,261.6 278.9,265.0C278.3,268.4 277.2,272.9 276.1,276.2C275.0,279.4 273.7,282.1 272.0,284.5C270.3,286.9 267.9,289.5 265.7,290.8C263.5,292.1 260.9,292.6 258.7,292.2C256.5,291.8 254.0,290.2 252.5,288.7C251.0,287.2 259.1,283.9 249.7,283.0C240.3,282.1 205.3,282.8 196.0,283.0C186.7,283.2 195.1,283.7 193.8,284.5C192.5,285.3 190.3,287.6 188.2,288.0C186.1,288.4 183.4,287.7 181.3,286.6C179.2,285.6 177.3,283.9 175.7,281.7C174.1,279.5 172.6,276.6 171.5,273.4C170.4,270.2 169.8,266.0 169.4,262.3C169.1,258.6 169.2,254.0 169.4,251.1C169.6,248.2 170.2,247.5 170.8,244.8C171.4,242.1 172.1,238.3 172.9,235.1C173.7,231.9 174.6,228.7 175.7,225.4C176.8,222.2 177.9,218.6 179.2,215.6C180.5,212.6 181.8,210.1 183.4,207.3C185.0,204.5 186.9,201.3 188.9,198.9C190.9,196.5 192.5,194.1 195.2,192.7Z" fill="#555" filter="url(#bl05)"/>
<path d="M196.2,194.1C198.8,192.8 202.0,192.5 205.6,192.1C209.1,191.6 214.7,191.2 217.6,191.4C220.5,191.6 221.9,192.8 223.0,193.1C224.2,193.3 222.1,192.9 224.5,192.9C226.9,192.8 233.5,192.1 237.4,192.8C241.4,193.4 245.0,195.1 248.1,196.7C251.3,198.4 253.8,200.5 256.2,202.8C258.7,205.2 260.9,208.0 262.9,210.9C264.9,213.8 266.7,217.3 268.3,220.4C269.9,223.6 271.1,226.4 272.3,229.8C273.6,233.2 274.9,237.1 275.6,240.7C276.4,244.3 276.7,249.0 277.0,251.4C277.3,253.9 277.5,253.4 277.5,255.5C277.5,257.7 277.5,261.0 277.0,264.2C276.4,267.5 275.4,272.0 274.3,275.1C273.2,278.3 272.0,280.8 270.3,283.2C268.6,285.5 266.4,288.0 264.2,289.3C262.1,290.5 259.6,291.0 257.5,290.6C255.4,290.3 252.9,288.7 251.5,287.2C250.1,285.8 257.9,282.6 248.8,281.7C239.7,280.8 206.0,281.5 197.0,281.7C188.0,282.0 196.1,282.4 194.9,283.2C193.6,284.0 191.5,286.2 189.5,286.6C187.4,286.9 184.8,286.2 182.8,285.2C180.8,284.2 179.0,282.6 177.4,280.4C175.8,278.3 174.4,275.5 173.3,272.4C172.3,269.3 171.6,265.2 171.3,261.6C171.0,258.0 171.1,253.6 171.3,250.8C171.5,247.9 172.1,247.2 172.7,244.7C173.2,242.1 173.9,238.4 174.7,235.2C175.5,232.1 176.4,229.0 177.4,225.8C178.4,222.7 179.5,219.3 180.8,216.3C182.0,213.4 183.3,211.0 184.8,208.3C186.4,205.6 188.2,202.5 190.1,200.1C192.0,197.8 193.6,195.5 196.2,194.1Z" fill="#8a8a8a" filter="url(#bl1)"/>
<path d="M186.0,246.0C187.0,243.5 189.7,235.2 192.0,231.0C194.3,226.8 196.3,223.2 200.0,220.5C203.7,217.8 210.0,216.1 214.0,215.0C218.0,213.9 220.7,214.0 224.0,214.0C227.3,214.0 230.0,213.8 234.0,215.0C238.0,216.2 244.2,218.3 248.0,221.0C251.8,223.7 254.2,226.8 256.5,231.0C258.8,235.2 261.1,243.5 262.0,246.0" fill="none" stroke="#666" stroke-width="3.4" stroke-linecap="round" stroke-linejoin="round" opacity="0.9" filter="url(#bl12)"/>
<path d="M196.0,205.0C198.0,203.8 203.7,199.5 208.0,198.0C212.3,196.5 218.7,196.3 222.0,196.0C225.3,195.7 225.0,195.6 228.0,196.0C231.0,196.4 236.0,196.8 240.0,198.5C244.0,200.2 250.0,204.8 252.0,206.0" fill="none" stroke="#787878" stroke-width="5" stroke-linecap="round" stroke-linejoin="round" opacity="0.8" filter="url(#bl2)"/>
<path d="M170.0,262.0C170.4,263.8 171.1,269.8 172.2,273.0C173.3,276.2 174.8,278.9 176.4,281.0C178.0,283.1 180.1,284.8 182.0,285.8C183.9,286.8 187.0,286.8 188.0,287.0" fill="none" stroke="#444" stroke-width="2.4" stroke-linecap="round" stroke-linejoin="round" filter="url(#bl1)"/>
<path d="M278.6,254.0C278.5,255.8 278.7,261.3 278.2,265.0C277.7,268.7 276.5,272.8 275.4,276.0C274.3,279.2 273.1,281.7 271.4,284.0C269.7,286.3 267.5,288.8 265.4,290.0C263.3,291.2 260.1,291.2 259.0,291.4" fill="none" stroke="#4a4a4a" stroke-width="2.2" stroke-linecap="round" stroke-linejoin="round" filter="url(#bl1)"/>
<path d="M177.0,280.0C178.2,280.8 181.5,284.0 184.0,284.5C186.5,285.0 190.7,283.2 192.0,283.0" fill="none" stroke="#5e5e5e" stroke-width="4.5" stroke-linecap="round" stroke-linejoin="round" filter="url(#bl2)"/>
<path d="M254.0,287.0C255.3,287.2 259.3,289.3 262.0,288.5C264.7,287.7 268.7,283.1 270.0,282.0" fill="none" stroke="#626262" stroke-width="5" stroke-linecap="round" stroke-linejoin="round" filter="url(#bl2)"/>
<path d="M224.2,191.5C224.2,193.8 224.3,200.8 224.4,205.0C224.5,209.2 224.6,215.0 224.6,217.0" fill="none" stroke="#404040" stroke-width="3.0" stroke-linecap="round" stroke-linejoin="round" filter="url(#bl1)"/>
<path d="M183.0,262.0C183.0,258.0 185.7,253.3 188.0,249.0C190.3,244.7 193.5,239.8 197.0,236.0C200.5,232.2 204.5,228.4 209.0,226.0C213.5,223.6 219.0,221.5 224.0,221.5C229.0,221.5 234.5,223.6 239.0,226.0C243.5,228.4 247.5,232.2 251.0,236.0C254.5,239.8 257.7,244.7 260.0,249.0C262.3,253.3 265.2,257.8 265.0,262.0C264.8,266.2 261.3,270.8 259.0,274.0C256.7,277.2 252.8,278.8 251.0,281.0C249.2,283.2 249.8,285.4 248.3,287.3C246.8,289.2 244.9,291.6 242.0,292.7C239.1,293.8 233.9,293.9 230.9,293.6C227.9,293.4 226.3,291.6 224.0,291.2C221.7,290.8 219.0,290.9 217.0,291.5C215.0,292.1 214.4,294.5 211.9,294.8C209.4,295.1 204.7,294.4 202.1,293.4C199.5,292.4 197.8,290.9 196.6,288.7C195.4,286.5 196.4,282.6 195.0,280.0C193.6,277.4 190.0,276.0 188.0,273.0C186.0,270.0 183.0,266.0 183.0,262.0Z" fill="#a9a9a9" filter="url(#bl1)"/>
<path d="M185.5,253.0C186.2,250.9 188.6,244.1 190.0,240.5C191.4,236.9 192.0,234.6 193.8,231.5C195.6,228.4 197.2,224.4 200.7,222.2C204.2,219.9 210.8,218.8 214.7,218.0C218.6,217.2 220.8,217.4 224.0,217.4C227.2,217.4 230.0,217.2 234.0,218.0C238.0,218.8 244.5,220.2 248.0,222.4C251.5,224.7 253.1,228.4 255.0,231.5C256.9,234.6 258.1,237.4 259.5,241.0C260.9,244.6 262.8,251.0 263.5,253.0" fill="none" stroke="#cacaca" stroke-width="2.8" stroke-linecap="round" stroke-linejoin="round" filter="url(#bl1)"/>
<path d="M187.0,255.0C188.5,253.5 192.5,248.7 196.0,246.0C199.5,243.3 203.3,240.8 208.0,239.0C212.7,237.2 218.7,235.0 224.0,235.0C229.3,235.0 235.3,237.2 240.0,239.0C244.7,240.8 248.3,243.3 252.0,246.0C255.7,248.7 260.3,253.5 262.0,255.0" fill="none" stroke="#d8d8d8" stroke-width="3.4" stroke-linecap="round" stroke-linejoin="round" filter="url(#bl1)"/>
<ellipse cx="224.0" cy="266.0" rx="22" ry="13" fill="#a0a0a0" opacity="0.9" filter="url(#bl3)"/>
<path d="M196.6,288.5C197.5,289.2 199.5,292.0 202.1,293.0C204.7,294.0 209.4,294.7 211.9,294.4C214.4,294.1 215.0,291.8 217.0,291.2C219.0,290.6 221.7,290.5 224.0,290.8C226.3,291.1 227.9,292.9 230.9,293.2C233.9,293.5 239.1,293.4 242.0,292.4C244.9,291.4 247.2,288.1 248.3,287.3" fill="none" stroke="#8a8a8a" stroke-width="2.0" stroke-linecap="round" stroke-linejoin="round" filter="url(#bl1)"/>
<path d="M200.1,223.5C202.1,222.3 209.1,221.7 210.5,221.9C211.9,222.1 212.1,224.3 212.1,225.4C212.1,226.5 211.5,229.4 210.5,230.9C209.5,232.4 205.4,236.1 203.5,237.9C201.6,239.7 195.7,244.7 193.8,246.2C191.9,247.7 187.4,250.7 186.8,250.4C186.2,250.1 187.9,245.5 188.7,243.4C189.5,241.3 192.3,234.6 193.6,232.3C194.9,230.0 198.1,224.7 200.1,223.5Z" fill="#121212" filter="url(#bl05)"/>
<path d="M215.2,224.4C216.2,223.5 221.9,223.6 224.0,223.6C226.1,223.6 231.9,223.3 233.0,224.2C234.1,225.1 234.6,230.5 233.5,231.6C232.4,232.7 226.1,234.0 224.0,234.0C221.9,234.0 216.2,232.5 215.2,231.4C214.2,230.3 214.2,225.3 215.2,224.4Z" fill="#0a0a0a" filter="url(#bl05)"/>
<path d="M237.7,224.0C238.6,223.8 243.2,224.4 244.8,225.2C246.4,226.0 250.3,228.9 251.8,230.7C253.3,232.5 256.4,238.4 257.4,240.5C258.4,242.6 260.3,247.8 260.3,249.0C260.3,250.2 258.4,250.9 257.4,250.4C256.4,249.9 253.3,246.3 251.8,244.8C250.3,243.3 246.3,239.5 244.8,237.9C243.3,236.3 240.2,232.2 239.3,230.9C238.4,229.6 237.2,227.5 237.0,226.7C236.8,225.9 236.8,224.2 237.7,224.0Z" fill="#121212" filter="url(#bl05)"/>
<ellipse cx="219.6" cy="245.0" rx="1.8" ry="4.6" fill="#c6c6c6" filter="url(#bl1)"/>
<ellipse cx="227.6" cy="245.0" rx="1.8" ry="4.6" fill="#c6c6c6" filter="url(#bl1)"/>
<path d="M196.9,263.2C197.3,264.9 197.3,266.7 197.1,268.3C196.9,269.9 196.4,271.5 195.7,272.8C194.9,274.0 193.9,275.1 192.8,275.7C191.7,276.3 190.4,276.6 189.1,276.5C187.9,276.3 186.5,275.8 185.3,275.0C184.1,274.1 183.0,272.9 182.2,271.5C181.3,270.1 180.6,268.4 180.3,266.8C179.9,265.1 179.9,263.3 180.1,261.7C180.3,260.1 180.8,258.5 181.5,257.2C182.3,256.0 183.3,254.9 184.4,254.3C185.5,253.7 186.8,253.4 188.1,253.5C189.3,253.7 190.7,254.2 191.9,255.0C193.1,255.9 194.2,257.1 195.0,258.5C195.9,259.9 196.6,261.6 196.9,263.2Z" fill="#1a1a1a" filter="url(#bl1)"/>
<path d="M195.0,264.3C195.2,265.4 195.3,266.6 195.1,267.7C195.0,268.7 194.7,269.8 194.3,270.6C193.8,271.4 193.2,272.1 192.5,272.5C191.8,272.9 191.0,273.0 190.2,272.9C189.4,272.9 188.6,272.5 187.8,271.9C187.1,271.4 186.4,270.5 185.8,269.6C185.3,268.7 184.9,267.6 184.6,266.5C184.4,265.4 184.3,264.2 184.5,263.1C184.6,262.1 184.9,261.0 185.3,260.2C185.8,259.4 186.4,258.7 187.1,258.3C187.8,257.9 188.6,257.8 189.4,257.9C190.2,257.9 191.0,258.3 191.8,258.9C192.5,259.4 193.2,260.3 193.8,261.2C194.3,262.1 194.7,263.2 195.0,264.3Z" fill="#5a5a5a" filter="url(#bl1)"/>
<path d="M194.1,258.6C193.4,258.8 191.0,258.7 189.9,259.8C188.7,260.8 187.5,263.2 187.3,265.0C187.2,266.8 188.0,269.4 189.0,270.6C190.0,271.8 192.6,271.9 193.3,272.2" fill="none" stroke="#1a1a1a" stroke-width="2.2" stroke-linecap="round" stroke-linejoin="round" filter="url(#bl05)"/>
<path d="M195.8,262.7C195.4,263.2 193.4,264.4 193.3,265.6C193.1,266.7 194.7,269.0 195.0,269.6" fill="none" stroke="#9a9a9a" stroke-width="1.2" stroke-linecap="round" stroke-linejoin="round" opacity="0.7" filter="url(#bl05)"/>
<path d="M266.1,269.7C265.8,271.4 265.1,273.2 264.2,274.6C263.4,276.1 262.3,277.4 261.1,278.3C260.0,279.1 258.6,279.7 257.4,279.8C256.1,280.0 254.8,279.7 253.8,279.1C252.7,278.4 251.7,277.4 251.0,276.1C250.3,274.8 249.8,273.2 249.6,271.5C249.4,269.9 249.5,268.0 249.9,266.3C250.2,264.6 250.9,262.8 251.8,261.4C252.6,259.9 253.7,258.6 254.9,257.7C256.0,256.9 257.4,256.3 258.6,256.2C259.9,256.0 261.2,256.3 262.2,256.9C263.3,257.6 264.3,258.6 265.0,259.9C265.7,261.2 266.2,262.8 266.4,264.5C266.6,266.1 266.5,268.0 266.1,269.7Z" fill="#1a1a1a" filter="url(#bl1)"/>
<path d="M261.8,269.5C261.6,270.6 261.2,271.8 260.6,272.7C260.1,273.7 259.4,274.5 258.7,275.1C257.9,275.7 257.1,276.1 256.3,276.2C255.6,276.3 254.7,276.1 254.1,275.7C253.4,275.3 252.8,274.6 252.4,273.8C252.0,273.0 251.7,271.9 251.6,270.8C251.4,269.7 251.5,268.5 251.8,267.3C252.0,266.2 252.4,265.0 253.0,264.1C253.5,263.1 254.2,262.3 254.9,261.7C255.7,261.1 256.5,260.7 257.3,260.6C258.0,260.5 258.9,260.7 259.5,261.1C260.2,261.5 260.8,262.2 261.2,263.0C261.6,263.8 261.9,264.9 262.0,266.0C262.2,267.1 262.1,268.3 261.8,269.5Z" fill="#5a5a5a" filter="url(#bl1)"/>
<path d="M252.6,261.4C253.3,261.6 255.6,261.5 256.8,262.6C257.9,263.7 259.1,266.1 259.2,268.0C259.4,269.9 258.6,272.5 257.6,273.8C256.6,275.0 254.1,275.2 253.4,275.4" fill="none" stroke="#1a1a1a" stroke-width="2.2" stroke-linecap="round" stroke-linejoin="round" filter="url(#bl05)"/>
<path d="M250.9,265.6C251.4,266.1 253.3,267.4 253.4,268.6C253.6,269.8 252.1,272.1 251.8,272.8" fill="none" stroke="#9a9a9a" stroke-width="1.2" stroke-linecap="round" stroke-linejoin="round" opacity="0.7" filter="url(#bl05)"/>
<ellipse cx="274.1" cy="244.8" rx="2.6" ry="2.8" fill="#eaeaea" filter="url(#bl05)"/>
</g>
<text x="163.8" y="192.1" font-size="11.3" fill="#111" textLength="41.6" lengthAdjust="spacingAndGlyphs">APP/PS1</text>
<g font-size="7.8" fill="#fff" text-anchor="middle">
<text x="253.9" y="214.9">Ctx</text><text x="228.6" y="230.9">Sp</text><text x="248.7" y="237.2">CPu</text><text x="240.3" y="253.7">Th</text><text x="258.9" y="283.8">Hp</text>
</g>
<text x="229.5" y="307.5" font-size="7.6" fill="#222" text-anchor="middle">Cb</text>
<text class="L" x="165.2" y="319.6" font-size="18.4" fill="#111" textLength="11" lengthAdjust="spacingAndGlyphs">D</text>
<rect x="165.3" y="322" width="22.8" height="2.6" fill="#000"/>
<rect class="fr" x="159.5" y="179" width="127" height="150.2"/>
</g><g id="panelE">
<rect class="fr" x="291.7" y="179" width="205.9" height="150.2"/>
<line x1="325.0" y1="212.4" x2="325.0" y2="297.6" stroke="#1a1a1a" stroke-width="1.2"/>
<line x1="324.4" y1="297.0" x2="489.5" y2="297.0" stroke="#1a1a1a" stroke-width="1.2"/>
<line x1="322.4" y1="297.0" x2="325.0" y2="297.0" stroke="#222" stroke-width="0.9"/>
<text class="b" x="321.6" y="299.0" font-size="5.7" text-anchor="end" fill="#222">0</text>
<line x1="322.4" y1="268.9" x2="325.0" y2="268.9" stroke="#222" stroke-width="0.9"/>
<text class="b" x="321.6" y="270.9" font-size="5.7" text-anchor="end" fill="#222">50</text>
<line x1="322.4" y1="240.9" x2="325.0" y2="240.9" stroke="#222" stroke-width="0.9"/>
<text class="b" x="321.6" y="242.9" font-size="5.7" text-anchor="end" fill="#222">100</text>
<line x1="322.4" y1="212.8" x2="325.0" y2="212.8" stroke="#222" stroke-width="0.9"/>
<text class="b" x="321.6" y="214.8" font-size="5.7" text-anchor="end" fill="#222">150</text>
<line x1="335.3" y1="236.4" x2="335.3" y2="232.5" stroke="#333" stroke-width="1.1"/>
<line x1="332.0" y1="232.5" x2="338.6" y2="232.5" stroke="#333" stroke-width="1.1"/>
<rect x="331.4" y="236.4" width="7.9" height="60.6" fill="#b900a7" stroke="#8a007a" stroke-width="0.6"/>
<line x1="347.6" y1="237.0" x2="347.6" y2="233.7" stroke="#333" stroke-width="1.1"/>
<line x1="344.3" y1="233.7" x2="350.9" y2="233.7" stroke="#333" stroke-width="1.1"/>
<rect x="343.7" y="237.0" width="7.9" height="60.0" fill="#a3a3a4" stroke="#6a6a6a" stroke-width="0.6"/>
<line x1="341.7" y1="297.0" x2="341.7" y2="299.6" stroke="#222" stroke-width="0.9"/>
<text class="b" x="341.7" y="307.0" font-size="8.9" text-anchor="middle" fill="#111">Hp</text>
<line x1="367.7" y1="276.2" x2="367.7" y2="272.3" stroke="#333" stroke-width="1.1"/>
<line x1="364.4" y1="272.3" x2="371.0" y2="272.3" stroke="#333" stroke-width="1.1"/>
<rect x="363.8" y="276.2" width="7.9" height="20.8" fill="#b900a7" stroke="#8a007a" stroke-width="0.6"/>
<line x1="380.0" y1="273.7" x2="380.0" y2="270.4" stroke="#333" stroke-width="1.1"/>
<line x1="376.7" y1="270.4" x2="383.3" y2="270.4" stroke="#333" stroke-width="1.1"/>
<rect x="376.1" y="273.7" width="7.9" height="23.3" fill="#a3a3a4" stroke="#6a6a6a" stroke-width="0.6"/>
<line x1="374.1" y1="297.0" x2="374.1" y2="299.6" stroke="#222" stroke-width="0.9"/>
<text class="b" x="374.1" y="307.0" font-size="8.9" text-anchor="middle" fill="#111">Th</text>
<line x1="400.0" y1="243.4" x2="400.0" y2="240.1" stroke="#333" stroke-width="1.1"/>
<line x1="396.7" y1="240.1" x2="403.3" y2="240.1" stroke="#333" stroke-width="1.1"/>
<rect x="396.1" y="243.4" width="7.9" height="53.6" fill="#b900a7" stroke="#8a007a" stroke-width="0.6"/>
<line x1="412.3" y1="237.0" x2="412.3" y2="234.2" stroke="#333" stroke-width="1.1"/>
<line x1="409.0" y1="234.2" x2="415.6" y2="234.2" stroke="#333" stroke-width="1.1"/>
<rect x="408.4" y="237.0" width="7.9" height="60.0" fill="#a3a3a4" stroke="#6a6a6a" stroke-width="0.6"/>
<line x1="406.4" y1="297.0" x2="406.4" y2="299.6" stroke="#222" stroke-width="0.9"/>
<text class="b" x="406.4" y="307.0" font-size="8.9" text-anchor="middle" fill="#111">Cpu</text>
<line x1="433.1" y1="238.4" x2="433.1" y2="233.0" stroke="#333" stroke-width="1.1"/>
<line x1="429.8" y1="233.0" x2="436.4" y2="233.0" stroke="#333" stroke-width="1.1"/>
<rect x="429.2" y="238.4" width="7.9" height="58.6" fill="#b900a7" stroke="#8a007a" stroke-width="0.6"/>
<line x1="445.4" y1="229.7" x2="445.4" y2="225.8" stroke="#333" stroke-width="1.1"/>
<line x1="442.1" y1="225.8" x2="448.8" y2="225.8" stroke="#333" stroke-width="1.1"/>
<rect x="441.5" y="229.7" width="7.9" height="67.3" fill="#a3a3a4" stroke="#6a6a6a" stroke-width="0.6"/>
<line x1="439.5" y1="297.0" x2="439.5" y2="299.6" stroke="#222" stroke-width="0.9"/>
<text class="b" x="439.5" y="307.0" font-size="8.9" text-anchor="middle" fill="#111">Sp</text>
<line x1="465.5" y1="265.7" x2="465.5" y2="263.6" stroke="#333" stroke-width="1.1"/>
<line x1="462.2" y1="263.6" x2="468.8" y2="263.6" stroke="#333" stroke-width="1.1"/>
<rect x="461.6" y="265.7" width="7.9" height="31.3" fill="#b900a7" stroke="#8a007a" stroke-width="0.6"/>
<line x1="477.8" y1="261.4" x2="477.8" y2="258.9" stroke="#333" stroke-width="1.1"/>
<line x1="474.5" y1="258.9" x2="481.1" y2="258.9" stroke="#333" stroke-width="1.1"/>
<rect x="473.9" y="261.4" width="7.9" height="35.6" fill="#a3a3a4" stroke="#6a6a6a" stroke-width="0.6"/>
<line x1="471.9" y1="297.0" x2="471.9" y2="299.6" stroke="#222" stroke-width="0.9"/>
<text class="b" x="471.9" y="307.0" font-size="8.9" text-anchor="middle" fill="#111">Ctx</text>
<text class="b" x="400.1" y="322.8" font-size="9.7" text-anchor="middle" fill="#111">Brain regions</text>
<text class="b" transform="translate(304.5,253.8) rotate(-90)" font-size="9.0" text-anchor="middle" fill="#111">Pixel density (a.u.)</text>
<rect x="440.4" y="189.7" width="9.6" height="4.8" fill="#b900a7" stroke="#7a006c" stroke-width="0.6"/>
<rect x="440.4" y="199.7" width="9.6" height="4.8" fill="#a3a3a4" stroke="#666" stroke-width="0.6"/>
<text x="455.6" y="194.6" font-size="7.7" fill="#333">Wild Type</text>
<text x="455.6" y="204.8" font-size="7.7" fill="#333">APP/PS1</text>
<text class="L" x="298.4" y="324.4" font-size="17.6" fill="#111" textLength="8.6" lengthAdjust="spacingAndGlyphs">E</text>
</g>
<g id="panelH">
<rect class="fr" x="168.7" y="333.4" width="328.9" height="211.5"/>
<line x1="211.4" y1="351.2" x2="211.4" y2="496.0" stroke="#1a1a1a" stroke-width="1.5"/>
<line x1="210.8" y1="495.3" x2="490.4" y2="495.3" stroke="#1a1a1a" stroke-width="1.3"/>
<line x1="206.8" y1="495.3" x2="211.4" y2="495.3" stroke="#222" stroke-width="1"/>
<text class="b" x="205.3" y="497.3" font-size="5.8" text-anchor="end" fill="#222">0</text>
<line x1="206.8" y1="447.5" x2="211.4" y2="447.5" stroke="#222" stroke-width="1"/>
<text class="b" x="205.3" y="449.5" font-size="5.8" text-anchor="end" fill="#222">50</text>
<line x1="206.8" y1="399.7" x2="211.4" y2="399.7" stroke="#222" stroke-width="1"/>
<text class="b" x="205.3" y="401.7" font-size="5.8" text-anchor="end" fill="#222">100</text>
<line x1="206.8" y1="351.9" x2="211.4" y2="351.9" stroke="#222" stroke-width="1"/>
<text class="b" x="205.3" y="353.9" font-size="5.8" text-anchor="end" fill="#222">150</text>
<line x1="218.5" y1="394.7" x2="218.5" y2="388.5" stroke="#2a2a2a" stroke-width="1.2"/>
<line x1="214.2" y1="388.5" x2="222.8" y2="388.5" stroke="#2a2a2a" stroke-width="1.2"/>
<rect x="215.7" y="394.7" width="5.6" height="100.6" fill="#b900a7" stroke="#7a006c" stroke-width="0.7"/>
<line x1="227.4" y1="397.6" x2="227.4" y2="391.2" stroke="#2a2a2a" stroke-width="1.2"/>
<line x1="223.1" y1="391.2" x2="231.7" y2="391.2" stroke="#2a2a2a" stroke-width="1.2"/>
<rect x="224.6" y="397.6" width="5.6" height="97.7" fill="#a3a3a4" stroke="#555" stroke-width="0.7"/>
<line x1="223.0" y1="495.3" x2="223.0" y2="498.90000000000003" stroke="#1a1a1a" stroke-width="1.2"/>
<text class="b" x="223.0" y="509.9" font-size="9.3" text-anchor="middle" fill="#111">so</text>
<line x1="241.6" y1="403.1" x2="241.6" y2="397.1" stroke="#2a2a2a" stroke-width="1.2"/>
<line x1="237.3" y1="397.1" x2="245.9" y2="397.1" stroke="#2a2a2a" stroke-width="1.2"/>
<rect x="238.8" y="403.1" width="5.6" height="92.2" fill="#b900a7" stroke="#7a006c" stroke-width="0.7"/>
<line x1="250.5" y1="403.6" x2="250.5" y2="397.6" stroke="#2a2a2a" stroke-width="1.2"/>
<line x1="246.2" y1="397.6" x2="254.8" y2="397.6" stroke="#2a2a2a" stroke-width="1.2"/>
<rect x="247.7" y="403.6" width="5.6" height="91.7" fill="#a3a3a4" stroke="#555" stroke-width="0.7"/>
<line x1="246.1" y1="495.3" x2="246.1" y2="498.90000000000003" stroke="#1a1a1a" stroke-width="1.2"/>
<text class="b" x="246.1" y="509.9" font-size="9.3" text-anchor="middle" fill="#111">sp</text>
<line x1="264.7" y1="391.2" x2="264.7" y2="385.0" stroke="#2a2a2a" stroke-width="1.2"/>
<line x1="260.4" y1="385.0" x2="269.0" y2="385.0" stroke="#2a2a2a" stroke-width="1.2"/>
<rect x="261.9" y="391.2" width="5.6" height="104.1" fill="#b900a7" stroke="#7a006c" stroke-width="0.7"/>
<line x1="273.6" y1="392.8" x2="273.6" y2="386.4" stroke="#2a2a2a" stroke-width="1.2"/>
<line x1="269.3" y1="386.4" x2="277.9" y2="386.4" stroke="#2a2a2a" stroke-width="1.2"/>
<rect x="270.8" y="392.8" width="5.6" height="102.5" fill="#a3a3a4" stroke="#555" stroke-width="0.7"/>
<line x1="269.2" y1="495.3" x2="269.2" y2="498.90000000000003" stroke="#1a1a1a" stroke-width="1.2"/>
<text class="b" x="269.2" y="509.9" font-size="9.3" text-anchor="middle" fill="#111">sr</text>
<line x1="287.8" y1="401.9" x2="287.8" y2="394.5" stroke="#2a2a2a" stroke-width="1.2"/>
<line x1="283.5" y1="394.5" x2="292.1" y2="394.5" stroke="#2a2a2a" stroke-width="1.2"/>
<rect x="285.0" y="401.9" width="5.6" height="93.4" fill="#b900a7" stroke="#7a006c" stroke-width="0.7"/>
<line x1="296.7" y1="400.7" x2="296.7" y2="393.3" stroke="#2a2a2a" stroke-width="1.2"/>
<line x1="292.4" y1="393.3" x2="301.0" y2="393.3" stroke="#2a2a2a" stroke-width="1.2"/>
<rect x="293.9" y="400.7" width="5.6" height="94.6" fill="#a3a3a4" stroke="#555" stroke-width="0.7"/>
<line x1="292.3" y1="495.3" x2="292.3" y2="498.90000000000003" stroke="#1a1a1a" stroke-width="1.2"/>
<text class="b" x="292.3" y="509.9" font-size="9.3" text-anchor="middle" fill="#111">slm</text>
<line x1="310.9" y1="421.0" x2="310.9" y2="414.3" stroke="#2a2a2a" stroke-width="1.2"/>
<line x1="306.6" y1="414.3" x2="315.2" y2="414.3" stroke="#2a2a2a" stroke-width="1.2"/>
<rect x="308.1" y="421.0" width="5.6" height="74.3" fill="#b900a7" stroke="#7a006c" stroke-width="0.7"/>
<line x1="319.8" y1="413.8" x2="319.8" y2="407.1" stroke="#2a2a2a" stroke-width="1.2"/>
<line x1="315.5" y1="407.1" x2="324.1" y2="407.1" stroke="#2a2a2a" stroke-width="1.2"/>
<rect x="317.0" y="413.8" width="5.6" height="81.5" fill="#a3a3a4" stroke="#555" stroke-width="0.7"/>
<line x1="315.4" y1="495.3" x2="315.4" y2="498.90000000000003" stroke="#1a1a1a" stroke-width="1.2"/>
<text class="b" x="315.4" y="509.9" font-size="9.3" text-anchor="middle" fill="#111">so</text>
<line x1="334.0" y1="428.6" x2="334.0" y2="423.1" stroke="#2a2a2a" stroke-width="1.2"/>
<line x1="329.7" y1="423.1" x2="338.3" y2="423.1" stroke="#2a2a2a" stroke-width="1.2"/>
<rect x="331.2" y="428.6" width="5.6" height="66.7" fill="#b900a7" stroke="#7a006c" stroke-width="0.7"/>
<line x1="342.9" y1="426.2" x2="342.9" y2="420.7" stroke="#2a2a2a" stroke-width="1.2"/>
<line x1="338.6" y1="420.7" x2="347.2" y2="420.7" stroke="#2a2a2a" stroke-width="1.2"/>
<rect x="340.1" y="426.2" width="5.6" height="69.1" fill="#a3a3a4" stroke="#555" stroke-width="0.7"/>
<line x1="338.5" y1="495.3" x2="338.5" y2="498.90000000000003" stroke="#1a1a1a" stroke-width="1.2"/>
<text class="b" x="338.5" y="509.9" font-size="9.3" text-anchor="middle" fill="#111">sp</text>
<line x1="357.1" y1="412.4" x2="357.1" y2="407.1" stroke="#2a2a2a" stroke-width="1.2"/>
<line x1="352.8" y1="407.1" x2="361.4" y2="407.1" stroke="#2a2a2a" stroke-width="1.2"/>
<rect x="354.3" y="412.4" width="5.6" height="82.9" fill="#b900a7" stroke="#7a006c" stroke-width="0.7"/>
<line x1="366.0" y1="410.2" x2="366.0" y2="405.2" stroke="#2a2a2a" stroke-width="1.2"/>
<line x1="361.7" y1="405.2" x2="370.3" y2="405.2" stroke="#2a2a2a" stroke-width="1.2"/>
<rect x="363.2" y="410.2" width="5.6" height="85.1" fill="#a3a3a4" stroke="#555" stroke-width="0.7"/>
<line x1="361.6" y1="495.3" x2="361.6" y2="498.90000000000003" stroke="#1a1a1a" stroke-width="1.2"/>
<text class="b" x="361.6" y="509.9" font-size="9.3" text-anchor="middle" fill="#111">sl</text>
<line x1="380.2" y1="407.6" x2="380.2" y2="401.7" stroke="#2a2a2a" stroke-width="1.2"/>
<line x1="375.9" y1="401.7" x2="384.5" y2="401.7" stroke="#2a2a2a" stroke-width="1.2"/>
<rect x="377.4" y="407.6" width="5.6" height="87.7" fill="#b900a7" stroke="#7a006c" stroke-width="0.7"/>
<line x1="389.1" y1="408.3" x2="389.1" y2="402.8" stroke="#2a2a2a" stroke-width="1.2"/>
<line x1="384.8" y1="402.8" x2="393.4" y2="402.8" stroke="#2a2a2a" stroke-width="1.2"/>
<rect x="386.3" y="408.3" width="5.6" height="87.0" fill="#a3a3a4" stroke="#555" stroke-width="0.7"/>
<line x1="384.7" y1="495.3" x2="384.7" y2="498.90000000000003" stroke="#1a1a1a" stroke-width="1.2"/>
<text class="b" x="384.7" y="509.9" font-size="9.3" text-anchor="middle" fill="#111">sr</text>
<line x1="403.3" y1="417.9" x2="403.3" y2="410.7" stroke="#2a2a2a" stroke-width="1.2"/>
<line x1="399.0" y1="410.7" x2="407.6" y2="410.7" stroke="#2a2a2a" stroke-width="1.2"/>
<rect x="400.5" y="417.9" width="5.6" height="77.4" fill="#b900a7" stroke="#7a006c" stroke-width="0.7"/>
<line x1="412.2" y1="409.5" x2="412.2" y2="402.8" stroke="#2a2a2a" stroke-width="1.2"/>
<line x1="407.9" y1="402.8" x2="416.5" y2="402.8" stroke="#2a2a2a" stroke-width="1.2"/>
<rect x="409.4" y="409.5" width="5.6" height="85.8" fill="#a3a3a4" stroke="#555" stroke-width="0.7"/>
<line x1="407.8" y1="495.3" x2="407.8" y2="498.90000000000003" stroke="#1a1a1a" stroke-width="1.2"/>
<text class="b" x="407.8" y="509.9" font-size="9.3" text-anchor="middle" fill="#111">slm</text>
<line x1="426.4" y1="407.6" x2="426.4" y2="399.5" stroke="#2a2a2a" stroke-width="1.2"/>
<line x1="422.1" y1="399.5" x2="430.7" y2="399.5" stroke="#2a2a2a" stroke-width="1.2"/>
<rect x="423.6" y="407.6" width="5.6" height="87.7" fill="#b900a7" stroke="#7a006c" stroke-width="0.7"/>
<line x1="435.3" y1="398.8" x2="435.3" y2="390.4" stroke="#2a2a2a" stroke-width="1.2"/>
<line x1="431.0" y1="390.4" x2="439.6" y2="390.4" stroke="#2a2a2a" stroke-width="1.2"/>
<rect x="432.5" y="398.8" width="5.6" height="96.5" fill="#a3a3a4" stroke="#555" stroke-width="0.7"/>
<line x1="430.9" y1="495.3" x2="430.9" y2="498.90000000000003" stroke="#1a1a1a" stroke-width="1.2"/>
<text class="b" x="430.9" y="509.9" font-size="9.3" text-anchor="middle" fill="#111">ml</text>
<line x1="449.5" y1="436.2" x2="449.5" y2="428.6" stroke="#2a2a2a" stroke-width="1.2"/>
<line x1="445.2" y1="428.6" x2="453.8" y2="428.6" stroke="#2a2a2a" stroke-width="1.2"/>
<rect x="446.7" y="436.2" width="5.6" height="59.1" fill="#b900a7" stroke="#7a006c" stroke-width="0.7"/>
<line x1="458.4" y1="425.0" x2="458.4" y2="417.4" stroke="#2a2a2a" stroke-width="1.2"/>
<line x1="454.1" y1="417.4" x2="462.7" y2="417.4" stroke="#2a2a2a" stroke-width="1.2"/>
<rect x="455.6" y="425.0" width="5.6" height="70.3" fill="#a3a3a4" stroke="#555" stroke-width="0.7"/>
<line x1="454.0" y1="495.3" x2="454.0" y2="498.90000000000003" stroke="#1a1a1a" stroke-width="1.2"/>
<text class="b" x="454.0" y="509.9" font-size="9.3" text-anchor="middle" fill="#111">gl</text>
<line x1="472.6" y1="422.6" x2="472.6" y2="419.8" stroke="#2a2a2a" stroke-width="1.2"/>
<line x1="468.3" y1="419.8" x2="476.9" y2="419.8" stroke="#2a2a2a" stroke-width="1.2"/>
<rect x="469.8" y="422.6" width="5.6" height="72.7" fill="#b900a7" stroke="#7a006c" stroke-width="0.7"/>
<line x1="481.5" y1="422.6" x2="481.5" y2="419.8" stroke="#2a2a2a" stroke-width="1.2"/>
<line x1="477.2" y1="419.8" x2="485.8" y2="419.8" stroke="#2a2a2a" stroke-width="1.2"/>
<rect x="478.7" y="422.6" width="5.6" height="72.7" fill="#a3a3a4" stroke="#555" stroke-width="0.7"/>
<line x1="477.1" y1="495.3" x2="477.1" y2="498.90000000000003" stroke="#1a1a1a" stroke-width="1.2"/>
<text class="b" x="477.1" y="509.9" font-size="9.3" text-anchor="middle" fill="#111">h</text>
<line x1="213" y1="517.2" x2="300.8" y2="517.2" stroke="#333" stroke-width="0.9"/>
<text x="261.4" y="528.4" font-size="10.3" text-anchor="middle" fill="#222">CA1</text>
<line x1="306.7" y1="517.2" x2="418.1" y2="517.2" stroke="#333" stroke-width="0.9"/>
<text x="362.4" y="528.4" font-size="10.3" text-anchor="middle" fill="#222">CA3</text>
<line x1="422.7" y1="517.2" x2="483.6" y2="517.2" stroke="#333" stroke-width="0.9"/>
<text x="453.1" y="528.4" font-size="10.3" text-anchor="middle" fill="#222">DG</text>
<text class="b" transform="translate(184.1,427.6) rotate(-90)" font-size="10" text-anchor="middle" fill="#111">Pixel density (a.u.)</text>
<rect x="440.9" y="345.8" width="10.4" height="4.8" fill="#b900a7" stroke="#7a006c" stroke-width="0.6"/>
<rect x="440.9" y="356.5" width="10.4" height="4.8" fill="#a3a3a4" stroke="#666" stroke-width="0.6"/>
<text x="456.5" y="350.8" font-size="7.7" fill="#333">Wild Type</text>
<text x="456.5" y="361.5" font-size="7.7" fill="#333">APP/PS1</text>
<text class="L" x="171.8" y="542.4" font-size="17.4" fill="#111" textLength="11" lengthAdjust="spacingAndGlyphs">H</text>
</g><g id="panelF"><g clip-path="url(#cF)">
<rect x="27" y="333" width="138" height="104" fill="#8e8e8e"/>
<ellipse cx="36" cy="340" rx="20" ry="10" fill="#848484" filter="url(#bl5)"/>
<ellipse cx="100" cy="335" rx="50" ry="6" fill="#808080" filter="url(#bl3)"/>
<ellipse cx="150" cy="336" rx="18" ry="7" fill="#b4b4b4" filter="url(#bl3)"/>
<ellipse cx="161" cy="352" rx="5" ry="22" fill="#d2d2d2" filter="url(#bl3)"/>
<ellipse cx="27" cy="398" rx="6" ry="26" fill="#d6d6d6" filter="url(#bl3)"/>
<rect x="20" y="420" width="78" height="24" fill="#d6d6d6" filter="url(#bl3)"/>
<rect x="92" y="424" width="40" height="20" fill="#b8b8b8" filter="url(#bl3)"/>
<ellipse cx="161" cy="385" rx="6" ry="50" fill="#a4a4a4" filter="url(#bl3)"/>
<ellipse cx="146" cy="436" rx="26" ry="5" fill="#a2a2a2" filter="url(#bl3)"/>
<path d="M24.0,385.0C25.8,382.9 30.8,376.8 35.0,372.5C39.2,368.2 44.0,363.4 49.0,359.5C54.0,355.6 59.3,352.0 65.0,349.0C70.7,346.0 77.3,343.5 83.0,341.5C88.7,339.5 96.3,337.8 99.0,337.0" fill="none" stroke="#c4c4c4" stroke-width="13" stroke-linecap="round" stroke-linejoin="round" filter="url(#bl3)"/>
<path d="M24.0,384.0C25.8,381.9 30.8,375.8 35.0,371.5C39.2,367.2 44.0,362.4 49.0,358.5C54.0,354.6 59.3,351.0 65.0,348.0C70.7,345.0 77.3,342.5 83.0,340.5C88.7,338.5 96.3,336.8 99.0,336.0" fill="none" stroke="#d6d6d6" stroke-width="5" stroke-linecap="round" stroke-linejoin="round" filter="url(#bl2)"/>
<path d="M34.0,405.0C34.7,401.3 37.7,396.0 40.0,392.0C42.3,388.0 45.2,384.5 48.0,381.0C50.8,377.5 53.3,374.3 57.0,371.0C60.7,367.7 65.2,364.1 70.0,361.0C74.8,357.9 80.0,354.9 86.0,352.5C92.0,350.1 98.5,347.8 106.0,346.5C113.5,345.2 124.2,343.9 131.0,345.0C137.8,346.1 142.8,348.7 147.0,353.0C151.2,357.3 154.2,364.3 156.0,371.0C157.8,377.7 158.1,386.2 157.5,393.0C156.9,399.8 155.1,406.5 152.5,412.0C149.9,417.5 147.8,422.9 142.0,426.0C136.2,429.1 124.8,430.4 117.5,430.5C110.2,430.6 102.9,428.4 98.0,426.5C93.1,424.6 92.7,420.6 88.0,419.0C83.3,417.4 76.3,417.6 70.0,417.0C63.7,416.4 55.7,416.0 50.0,415.5C44.3,415.0 38.7,415.8 36.0,414.0C33.3,412.2 33.3,408.7 34.0,405.0Z" fill="#323232" filter="url(#bl2)"/>
<path d="M42.0,396.0C43.3,393.8 47.0,387.0 50.0,383.0C53.0,379.0 56.0,375.5 60.0,372.0C64.0,368.5 68.7,364.9 74.0,362.0C79.3,359.1 84.7,356.7 92.0,354.5C99.3,352.3 110.2,349.2 118.0,349.0C125.8,348.8 133.8,349.8 139.0,353.0C144.2,356.2 147.4,361.8 149.5,368.0C151.6,374.2 151.9,383.3 151.5,390.0C151.1,396.7 147.8,405.0 147.0,408.0" fill="none" stroke="#1a1a1a" stroke-width="9" stroke-linecap="round" stroke-linejoin="round" filter="url(#bl2)"/>
<path d="M62.0,384.0C65.0,382.7 73.7,377.8 80.0,376.0C86.3,374.2 93.3,373.3 100.0,373.5C106.7,373.7 114.0,374.9 120.0,377.0C126.0,379.1 132.7,382.8 136.0,386.0C139.3,389.2 139.3,394.3 140.0,396.0" fill="none" stroke="#1c1c1c" stroke-width="9" stroke-linecap="round" stroke-linejoin="round" filter="url(#bl2)"/>
<path d="M66.0,373.0C69.0,371.7 77.7,367.0 84.0,365.0C90.3,363.0 97.3,361.4 104.0,361.0C110.7,360.6 118.3,361.0 124.0,362.5C129.7,364.0 135.7,368.8 138.0,370.0" fill="none" stroke="#282828" stroke-width="6" stroke-linecap="round" stroke-linejoin="round" filter="url(#bl2)"/>
<path d="M35.0,405.0C36.8,404.0 41.8,400.7 46.0,399.0C50.2,397.3 55.3,395.8 60.0,395.0C64.7,394.2 71.7,394.2 74.0,394.0" fill="none" stroke="#505050" stroke-width="12" stroke-linecap="round" stroke-linejoin="round" opacity="0.95" filter="url(#bl2)"/>
<path d="M44.0,414.0C46.7,414.2 54.3,415.0 60.0,415.5C65.7,416.0 73.0,416.4 78.0,417.0C83.0,417.6 88.0,418.7 90.0,419.0" fill="none" stroke="#444" stroke-width="3" stroke-linecap="round" stroke-linejoin="round" filter="url(#bl12)"/>
<path d="M112.0,391.0C114.7,391.3 123.0,391.7 128.0,393.0C133.0,394.3 138.2,396.5 142.0,399.0C145.8,401.5 149.8,405.1 150.5,408.0C151.2,410.9 148.8,414.2 146.0,416.5C143.2,418.8 138.7,420.5 134.0,422.0C129.3,423.5 123.0,424.8 118.0,425.5C113.0,426.2 107.7,426.5 104.0,426.0C100.3,425.5 97.3,423.1 96.0,422.5" fill="none" stroke="#161616" stroke-width="6.5" stroke-linecap="round" stroke-linejoin="round" filter="url(#bl1)"/>
<path d="M80.0,406.0C79.2,403.2 82.7,401.1 86.0,399.5C89.3,397.9 94.7,396.9 100.0,396.5C105.3,396.1 112.7,396.2 118.0,397.0C123.3,397.8 128.6,399.2 132.0,401.0C135.4,402.8 138.3,405.8 138.5,408.0C138.7,410.2 136.2,412.4 133.0,414.0C129.8,415.6 124.0,416.8 119.0,417.5C114.0,418.2 107.7,418.8 103.0,418.5C98.3,418.2 94.8,418.1 91.0,416.0C87.2,413.9 80.8,408.8 80.0,406.0Z" fill="#7c7c7c" filter="url(#bl2)"/>
<path d="M87.0,400.5C89.2,400.2 94.8,398.7 100.0,398.5C105.2,398.3 112.8,398.6 118.0,399.5C123.2,400.4 128.8,403.2 131.0,404.0" fill="none" stroke="#9c9c9c" stroke-width="2.8" stroke-linecap="round" stroke-linejoin="round" filter="url(#bl12)"/>
<path d="M77.0,407.5C79.2,407.6 86.0,407.7 90.0,408.0C94.0,408.3 99.2,409.2 101.0,409.5" fill="none" stroke="#484848" stroke-width="4" stroke-linecap="round" stroke-linejoin="round" filter="url(#bl12)"/>
</g>
<text x="32.4" y="346" font-size="11.4" fill="#111" textLength="15.6" lengthAdjust="spacingAndGlyphs">WT</text>
<g font-size="7" fill="#ececec" text-anchor="middle">
<text x="97" y="352.2" textLength="6.9" lengthAdjust="spacingAndGlyphs">so</text>
<text x="97" y="361" textLength="6.9" lengthAdjust="spacingAndGlyphs">sp</text>
<text x="97.5" y="371.2" textLength="5.4" lengthAdjust="spacingAndGlyphs">sr</text>
<text x="98.9" y="381.8" textLength="10.2" lengthAdjust="spacingAndGlyphs">slm</text>
<text x="44.3" y="401.4" textLength="6.9" lengthAdjust="spacingAndGlyphs">sp</text>
<text x="35.8" y="411.8" textLength="6.9" lengthAdjust="spacingAndGlyphs">so</text>
<text x="52.5" y="407.9" textLength="4.7" lengthAdjust="spacingAndGlyphs">sl</text>
<text x="60.7" y="402.8" textLength="5.4" lengthAdjust="spacingAndGlyphs">sr</text>
<text x="72.8" y="402.4" textLength="10.2" lengthAdjust="spacingAndGlyphs">slm</text>
<text x="118.9" y="412.6" textLength="3.6" lengthAdjust="spacingAndGlyphs">h</text>
<text x="130.4" y="406.6" textLength="5.1" lengthAdjust="spacingAndGlyphs">gl</text>
<text x="115.3" y="427.1" textLength="6.9" lengthAdjust="spacingAndGlyphs">ml</text>
</g>
<g font-size="8.6" fill="#f4f4f4" text-anchor="middle">
<text x="117.7" y="358.9" textLength="15.6" lengthAdjust="spacingAndGlyphs">CA1</text><text x="61.3" y="395" textLength="15.6" lengthAdjust="spacingAndGlyphs">CA3</text><text x="144.1" y="417.6" textLength="12" lengthAdjust="spacingAndGlyphs">DG</text>
</g>
<text class="L" x="32.5" y="430.6" font-size="15.8" fill="#111" textLength="6.6" lengthAdjust="spacingAndGlyphs">F</text>
<rect x="30.2" y="432.5" width="27.6" height="2.1" fill="#000"/>
<rect class="fr" x="27.4" y="333.4" width="136.8" height="103.3"/>
</g>
<g id="panelG"><g clip-path="url(#cG)">
<rect x="27" y="440" width="138" height="106" fill="#848484"/>
<ellipse cx="62" cy="446" rx="44" ry="9" fill="#626262" filter="url(#bl5)"/>
<ellipse cx="157" cy="450" rx="12" ry="12" fill="#b4b4b4" filter="url(#bl3)"/>
<ellipse cx="28" cy="496" rx="6" ry="20" fill="#b4b4b4" filter="url(#bl3)"/>
<ellipse cx="150" cy="539" rx="26" ry="8" fill="#cecece" filter="url(#bl3)"/>
<ellipse cx="40" cy="540" rx="18" ry="7" fill="#929292" filter="url(#bl3)"/>
<ellipse cx="84" cy="541" rx="24" ry="6" fill="#b0b0b0" filter="url(#bl3)"/>
<ellipse cx="161" cy="495" rx="4" ry="30" fill="#929292" filter="url(#bl3)"/>
<path d="M24.0,493.0C25.8,491.0 30.8,485.0 35.0,481.0C39.2,477.0 44.0,472.6 49.0,469.0C54.0,465.4 59.2,462.3 65.0,459.3C70.8,456.3 78.2,453.2 84.0,451.0C89.8,448.8 97.3,446.8 100.0,446.0" fill="none" stroke="#acacac" stroke-width="6.5" stroke-linecap="round" stroke-linejoin="round" filter="url(#bl2)"/>
<path d="M34.0,513.0C34.7,509.7 37.8,505.7 40.0,502.0C42.2,498.3 44.3,494.5 47.0,491.0C49.7,487.5 52.2,484.7 56.0,481.0C59.8,477.3 64.7,472.8 70.0,469.0C75.3,465.2 81.5,461.2 88.0,458.5C94.5,455.8 101.5,452.8 109.0,452.5C116.5,452.2 126.5,453.5 133.0,456.5C139.5,459.5 144.3,464.6 148.0,470.5C151.7,476.4 154.4,484.8 155.0,492.0C155.6,499.2 153.7,508.0 151.5,514.0C149.3,520.0 147.7,524.5 142.0,528.0C136.3,531.5 124.8,534.0 117.5,534.7C110.2,535.4 102.8,533.6 98.0,532.0C93.2,530.4 93.7,526.3 89.0,525.0C84.3,523.7 76.5,524.3 70.0,524.0C63.5,523.7 55.7,523.3 50.0,523.0C44.3,522.7 38.7,523.7 36.0,522.0C33.3,520.3 33.3,516.3 34.0,513.0Z" fill="#303030" filter="url(#bl2)"/>
<path d="M43.0,505.0C44.2,503.0 47.2,497.0 50.0,493.0C52.8,489.0 56.0,484.9 60.0,481.0C64.0,477.1 68.5,473.0 74.0,469.5C79.5,466.0 86.2,462.2 93.0,460.0C99.8,457.8 108.2,455.9 115.0,456.0C121.8,456.1 128.9,457.3 134.0,460.5C139.1,463.7 142.9,469.8 145.5,475.0C148.1,480.2 149.3,486.2 149.5,492.0C149.7,497.8 147.0,507.0 146.5,510.0" fill="none" stroke="#181818" stroke-width="9" stroke-linecap="round" stroke-linejoin="round" filter="url(#bl2)"/>
<path d="M64.0,491.0C67.0,489.7 75.7,484.8 82.0,483.0C88.3,481.2 95.3,480.0 102.0,480.0C108.7,480.0 116.3,481.2 122.0,483.0C127.7,484.8 133.0,488.0 136.0,491.0C139.0,494.0 139.3,499.3 140.0,501.0" fill="none" stroke="#1a1a1a" stroke-width="9" stroke-linecap="round" stroke-linejoin="round" filter="url(#bl2)"/>
<path d="M68.0,480.0C71.0,478.6 79.7,473.6 86.0,471.5C92.3,469.4 99.3,467.9 106.0,467.5C112.7,467.1 120.5,467.6 126.0,469.0C131.5,470.4 136.8,474.8 139.0,476.0" fill="none" stroke="#262626" stroke-width="6" stroke-linecap="round" stroke-linejoin="round" filter="url(#bl2)"/>
<path d="M40.0,515.0C42.0,514.0 47.7,510.7 52.0,509.0C56.3,507.3 61.3,506.2 66.0,505.0C70.7,503.8 77.7,502.5 80.0,502.0" fill="none" stroke="#6a6a6a" stroke-width="10" stroke-linecap="round" stroke-linejoin="round" opacity="0.9" filter="url(#bl2)"/>
<path d="M44.0,521.5C46.7,521.8 54.3,522.6 60.0,523.0C65.7,523.4 73.0,523.7 78.0,524.0C83.0,524.3 88.0,524.8 90.0,525.0" fill="none" stroke="#444" stroke-width="3" stroke-linecap="round" stroke-linejoin="round" filter="url(#bl12)"/>
<path d="M112.0,498.0C114.7,498.3 123.2,498.8 128.0,500.0C132.8,501.2 137.4,503.1 141.0,505.5C144.6,507.9 148.8,511.6 149.5,514.5C150.2,517.4 148.1,520.7 145.5,523.0C142.9,525.3 138.6,527.1 134.0,528.5C129.4,529.9 123.0,530.9 118.0,531.5C113.0,532.1 107.8,532.5 104.0,532.0C100.2,531.5 96.5,529.1 95.0,528.5" fill="none" stroke="#141414" stroke-width="7" stroke-linecap="round" stroke-linejoin="round" filter="url(#bl1)"/>
<path d="M79.0,513.0C78.2,510.2 81.7,508.1 85.0,506.5C88.3,504.9 93.5,503.9 99.0,503.5C104.5,503.1 112.2,503.2 118.0,504.0C123.8,504.8 129.9,506.2 134.0,508.0C138.1,509.8 142.2,512.8 142.5,515.0C142.8,517.2 139.6,519.4 136.0,521.0C132.4,522.6 126.3,523.8 121.0,524.5C115.7,525.2 109.2,525.8 104.0,525.5C98.8,525.2 94.2,525.1 90.0,523.0C85.8,520.9 79.8,515.8 79.0,513.0Z" fill="#7c7c7c" filter="url(#bl2)"/>
<path d="M86.0,507.5C88.3,507.2 94.7,505.7 100.0,505.5C105.3,505.3 112.5,505.7 118.0,506.5C123.5,507.3 130.5,509.8 133.0,510.5" fill="none" stroke="#9c9c9c" stroke-width="2.8" stroke-linecap="round" stroke-linejoin="round" filter="url(#bl12)"/>
<path d="M76.0,514.5C78.3,514.6 85.8,514.7 90.0,515.0C94.2,515.3 99.2,516.2 101.0,516.5" fill="none" stroke="#484848" stroke-width="4" stroke-linecap="round" stroke-linejoin="round" filter="url(#bl12)"/>
</g>
<text x="33" y="453.4" font-size="11.4" fill="#111" textLength="42.4" lengthAdjust="spacingAndGlyphs">APP/PS1</text>
<g font-size="7" fill="#ececec" text-anchor="middle">
<text x="103.3" y="458.7" textLength="6.9" lengthAdjust="spacingAndGlyphs">so</text>
<text x="103.3" y="467.4" textLength="6.9" lengthAdjust="spacingAndGlyphs">sp</text>
<text x="103.3" y="477.1" textLength="5.4" lengthAdjust="spacingAndGlyphs">sr</text>
<text x="102.4" y="487.5" textLength="10.2" lengthAdjust="spacingAndGlyphs">slm</text>
<text x="34.9" y="518.8" textLength="6.9" lengthAdjust="spacingAndGlyphs">so</text>
<text x="46.8" y="515.7" textLength="4.7" lengthAdjust="spacingAndGlyphs">sl</text>
<text x="45.9" y="522.6" textLength="6.9" lengthAdjust="spacingAndGlyphs">sp</text>
<text x="56.6" y="513.9" textLength="5.4" lengthAdjust="spacingAndGlyphs">sr</text>
<text x="68.2" y="510.6" textLength="10.2" lengthAdjust="spacingAndGlyphs">slm</text>
<text x="114.8" y="507.5" textLength="5.1" lengthAdjust="spacingAndGlyphs">gl</text>
<text x="114.8" y="518.2" textLength="3.6" lengthAdjust="spacingAndGlyphs">h</text>
<text x="116.2" y="533.0" textLength="6.9" lengthAdjust="spacingAndGlyphs">ml</text>
</g>
<g font-size="8.6" fill="#f4f4f4" text-anchor="middle">
<text x="134" y="469.0" textLength="15.6" lengthAdjust="spacingAndGlyphs">CA1</text><text x="42.1" y="503.9" textLength="15.6" lengthAdjust="spacingAndGlyphs">CA3</text><text x="138.1" y="523.5" textLength="12" lengthAdjust="spacingAndGlyphs">DG</text>
</g>
<text class="L" x="31" y="538.9" font-size="16" fill="#111" textLength="9.6" lengthAdjust="spacingAndGlyphs">G</text>
<rect x="30.8" y="540.7" width="27.8" height="2" fill="#000"/>
<rect class="fr" x="27.4" y="440.5" width="136.8" height="104.4"/>
</g>
</svg></body></html>
